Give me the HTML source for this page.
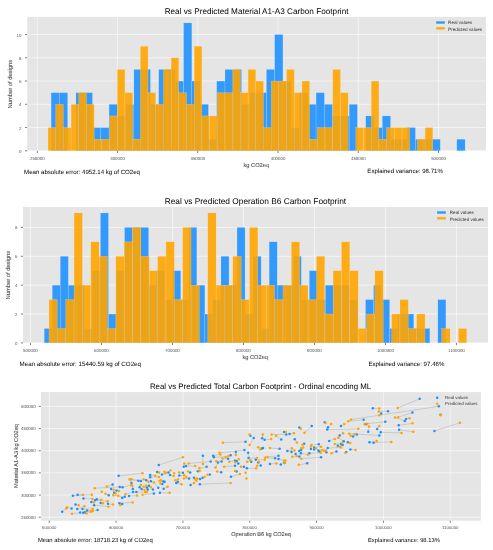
<!DOCTYPE html>
<html><head><meta charset="utf-8"><style>
html,body{margin:0;padding:0;background:#fff;}
svg{display:block;font-family:"Liberation Sans", Arial, sans-serif;text-rendering:geometricPrecision;}
</style></head><body>
<svg width="493" height="550" viewBox="0 0 493 550">
<rect width="493" height="550" fill="#fff"/>
<rect x="27.2" y="16.9" width="458.80" height="133.90" fill="#E5E5E5"/>
<line x1="37.31" y1="16.9" x2="37.31" y2="150.8" stroke="#fff" stroke-width="0.7" stroke-opacity="0.8"/>
<line x1="117.55" y1="16.9" x2="117.55" y2="150.8" stroke="#fff" stroke-width="0.7" stroke-opacity="0.8"/>
<line x1="197.79" y1="16.9" x2="197.79" y2="150.8" stroke="#fff" stroke-width="0.7" stroke-opacity="0.8"/>
<line x1="278.03" y1="16.9" x2="278.03" y2="150.8" stroke="#fff" stroke-width="0.7" stroke-opacity="0.8"/>
<line x1="358.27" y1="16.9" x2="358.27" y2="150.8" stroke="#fff" stroke-width="0.7" stroke-opacity="0.8"/>
<line x1="438.51" y1="16.9" x2="438.51" y2="150.8" stroke="#fff" stroke-width="0.7" stroke-opacity="0.8"/>
<line x1="27.2" y1="150.80" x2="486.0" y2="150.80" stroke="#fff" stroke-width="0.7" stroke-opacity="0.8"/>
<line x1="27.2" y1="127.55" x2="486.0" y2="127.55" stroke="#fff" stroke-width="0.7" stroke-opacity="0.8"/>
<line x1="27.2" y1="104.29" x2="486.0" y2="104.29" stroke="#fff" stroke-width="0.7" stroke-opacity="0.8"/>
<line x1="27.2" y1="81.04" x2="486.0" y2="81.04" stroke="#fff" stroke-width="0.7" stroke-opacity="0.8"/>
<line x1="27.2" y1="57.78" x2="486.0" y2="57.78" stroke="#fff" stroke-width="0.7" stroke-opacity="0.8"/>
<line x1="27.2" y1="34.53" x2="486.0" y2="34.53" stroke="#fff" stroke-width="0.7" stroke-opacity="0.8"/>
<rect x="51.100" y="92.665" width="8.280" height="58.135" fill="#1E90FF" fill-opacity="0.9" stroke="#EEEEEE" stroke-width="0.3" stroke-opacity="0.6"/>
<rect x="59.380" y="92.665" width="8.280" height="58.135" fill="#1E90FF" fill-opacity="0.9" stroke="#EEEEEE" stroke-width="0.3" stroke-opacity="0.6"/>
<rect x="75.940" y="92.665" width="8.280" height="58.135" fill="#1E90FF" fill-opacity="0.9" stroke="#EEEEEE" stroke-width="0.3" stroke-opacity="0.6"/>
<rect x="84.220" y="92.665" width="8.280" height="58.135" fill="#1E90FF" fill-opacity="0.9" stroke="#EEEEEE" stroke-width="0.3" stroke-opacity="0.6"/>
<rect x="92.500" y="127.546" width="8.280" height="23.254" fill="#1E90FF" fill-opacity="0.9" stroke="#EEEEEE" stroke-width="0.3" stroke-opacity="0.6"/>
<rect x="100.780" y="127.546" width="8.280" height="23.254" fill="#1E90FF" fill-opacity="0.9" stroke="#EEEEEE" stroke-width="0.3" stroke-opacity="0.6"/>
<rect x="109.060" y="104.292" width="8.280" height="46.508" fill="#1E90FF" fill-opacity="0.9" stroke="#EEEEEE" stroke-width="0.3" stroke-opacity="0.6"/>
<rect x="117.340" y="115.919" width="8.280" height="34.881" fill="#1E90FF" fill-opacity="0.9" stroke="#EEEEEE" stroke-width="0.3" stroke-opacity="0.6"/>
<rect x="125.620" y="104.292" width="8.280" height="46.508" fill="#1E90FF" fill-opacity="0.9" stroke="#EEEEEE" stroke-width="0.3" stroke-opacity="0.6"/>
<rect x="133.900" y="69.411" width="8.280" height="81.389" fill="#1E90FF" fill-opacity="0.9" stroke="#EEEEEE" stroke-width="0.3" stroke-opacity="0.6"/>
<rect x="142.180" y="69.411" width="8.280" height="81.389" fill="#1E90FF" fill-opacity="0.9" stroke="#EEEEEE" stroke-width="0.3" stroke-opacity="0.6"/>
<rect x="150.460" y="104.292" width="8.280" height="46.508" fill="#1E90FF" fill-opacity="0.9" stroke="#EEEEEE" stroke-width="0.3" stroke-opacity="0.6"/>
<rect x="158.740" y="69.411" width="8.280" height="81.389" fill="#1E90FF" fill-opacity="0.9" stroke="#EEEEEE" stroke-width="0.3" stroke-opacity="0.6"/>
<rect x="167.020" y="69.411" width="8.280" height="81.389" fill="#1E90FF" fill-opacity="0.9" stroke="#EEEEEE" stroke-width="0.3" stroke-opacity="0.6"/>
<rect x="175.300" y="81.038" width="8.280" height="69.762" fill="#1E90FF" fill-opacity="0.9" stroke="#EEEEEE" stroke-width="0.3" stroke-opacity="0.6"/>
<rect x="183.580" y="22.903" width="8.280" height="127.897" fill="#1E90FF" fill-opacity="0.9" stroke="#EEEEEE" stroke-width="0.3" stroke-opacity="0.6"/>
<rect x="191.860" y="81.038" width="8.280" height="69.762" fill="#1E90FF" fill-opacity="0.9" stroke="#EEEEEE" stroke-width="0.3" stroke-opacity="0.6"/>
<rect x="200.140" y="104.292" width="8.280" height="46.508" fill="#1E90FF" fill-opacity="0.9" stroke="#EEEEEE" stroke-width="0.3" stroke-opacity="0.6"/>
<rect x="208.420" y="139.173" width="8.280" height="11.627" fill="#1E90FF" fill-opacity="0.9" stroke="#EEEEEE" stroke-width="0.3" stroke-opacity="0.6"/>
<rect x="216.700" y="81.038" width="8.280" height="69.762" fill="#1E90FF" fill-opacity="0.9" stroke="#EEEEEE" stroke-width="0.3" stroke-opacity="0.6"/>
<rect x="224.980" y="69.411" width="8.280" height="81.389" fill="#1E90FF" fill-opacity="0.9" stroke="#EEEEEE" stroke-width="0.3" stroke-opacity="0.6"/>
<rect x="233.260" y="69.411" width="8.280" height="81.389" fill="#1E90FF" fill-opacity="0.9" stroke="#EEEEEE" stroke-width="0.3" stroke-opacity="0.6"/>
<rect x="241.540" y="104.292" width="8.280" height="46.508" fill="#1E90FF" fill-opacity="0.9" stroke="#EEEEEE" stroke-width="0.3" stroke-opacity="0.6"/>
<rect x="249.820" y="92.665" width="8.280" height="58.135" fill="#1E90FF" fill-opacity="0.9" stroke="#EEEEEE" stroke-width="0.3" stroke-opacity="0.6"/>
<rect x="258.100" y="92.665" width="8.280" height="58.135" fill="#1E90FF" fill-opacity="0.9" stroke="#EEEEEE" stroke-width="0.3" stroke-opacity="0.6"/>
<rect x="266.380" y="69.411" width="8.280" height="81.389" fill="#1E90FF" fill-opacity="0.9" stroke="#EEEEEE" stroke-width="0.3" stroke-opacity="0.6"/>
<rect x="274.660" y="34.530" width="8.280" height="116.270" fill="#1E90FF" fill-opacity="0.9" stroke="#EEEEEE" stroke-width="0.3" stroke-opacity="0.6"/>
<rect x="282.940" y="81.038" width="8.280" height="69.762" fill="#1E90FF" fill-opacity="0.9" stroke="#EEEEEE" stroke-width="0.3" stroke-opacity="0.6"/>
<rect x="291.220" y="127.546" width="8.280" height="23.254" fill="#1E90FF" fill-opacity="0.9" stroke="#EEEEEE" stroke-width="0.3" stroke-opacity="0.6"/>
<rect x="299.500" y="92.665" width="8.280" height="58.135" fill="#1E90FF" fill-opacity="0.9" stroke="#EEEEEE" stroke-width="0.3" stroke-opacity="0.6"/>
<rect x="307.780" y="104.292" width="8.280" height="46.508" fill="#1E90FF" fill-opacity="0.9" stroke="#EEEEEE" stroke-width="0.3" stroke-opacity="0.6"/>
<rect x="316.060" y="92.665" width="8.280" height="58.135" fill="#1E90FF" fill-opacity="0.9" stroke="#EEEEEE" stroke-width="0.3" stroke-opacity="0.6"/>
<rect x="324.340" y="104.292" width="8.280" height="46.508" fill="#1E90FF" fill-opacity="0.9" stroke="#EEEEEE" stroke-width="0.3" stroke-opacity="0.6"/>
<rect x="332.620" y="115.919" width="8.280" height="34.881" fill="#1E90FF" fill-opacity="0.9" stroke="#EEEEEE" stroke-width="0.3" stroke-opacity="0.6"/>
<rect x="340.900" y="115.919" width="8.280" height="34.881" fill="#1E90FF" fill-opacity="0.9" stroke="#EEEEEE" stroke-width="0.3" stroke-opacity="0.6"/>
<rect x="349.180" y="104.292" width="8.280" height="46.508" fill="#1E90FF" fill-opacity="0.9" stroke="#EEEEEE" stroke-width="0.3" stroke-opacity="0.6"/>
<rect x="365.740" y="115.919" width="8.280" height="34.881" fill="#1E90FF" fill-opacity="0.9" stroke="#EEEEEE" stroke-width="0.3" stroke-opacity="0.6"/>
<rect x="374.020" y="127.546" width="8.280" height="23.254" fill="#1E90FF" fill-opacity="0.9" stroke="#EEEEEE" stroke-width="0.3" stroke-opacity="0.6"/>
<rect x="382.300" y="115.919" width="8.280" height="34.881" fill="#1E90FF" fill-opacity="0.9" stroke="#EEEEEE" stroke-width="0.3" stroke-opacity="0.6"/>
<rect x="390.580" y="139.173" width="8.280" height="11.627" fill="#1E90FF" fill-opacity="0.9" stroke="#EEEEEE" stroke-width="0.3" stroke-opacity="0.6"/>
<rect x="398.860" y="139.173" width="8.280" height="11.627" fill="#1E90FF" fill-opacity="0.9" stroke="#EEEEEE" stroke-width="0.3" stroke-opacity="0.6"/>
<rect x="407.140" y="127.546" width="8.280" height="23.254" fill="#1E90FF" fill-opacity="0.9" stroke="#EEEEEE" stroke-width="0.3" stroke-opacity="0.6"/>
<rect x="415.420" y="139.173" width="8.280" height="11.627" fill="#1E90FF" fill-opacity="0.9" stroke="#EEEEEE" stroke-width="0.3" stroke-opacity="0.6"/>
<rect x="423.700" y="139.173" width="8.280" height="11.627" fill="#1E90FF" fill-opacity="0.9" stroke="#EEEEEE" stroke-width="0.3" stroke-opacity="0.6"/>
<rect x="431.980" y="139.173" width="8.280" height="11.627" fill="#1E90FF" fill-opacity="0.9" stroke="#EEEEEE" stroke-width="0.3" stroke-opacity="0.6"/>
<rect x="456.820" y="139.173" width="8.280" height="11.627" fill="#1E90FF" fill-opacity="0.9" stroke="#EEEEEE" stroke-width="0.3" stroke-opacity="0.6"/>
<rect x="48.000" y="127.546" width="7.696" height="23.254" fill="#FFA500" fill-opacity="0.9" stroke="#EEEEEE" stroke-width="0.3" stroke-opacity="0.6"/>
<rect x="55.696" y="104.292" width="7.696" height="46.508" fill="#FFA500" fill-opacity="0.9" stroke="#EEEEEE" stroke-width="0.3" stroke-opacity="0.6"/>
<rect x="63.392" y="127.546" width="7.696" height="23.254" fill="#FFA500" fill-opacity="0.9" stroke="#EEEEEE" stroke-width="0.3" stroke-opacity="0.6"/>
<rect x="71.088" y="104.292" width="7.696" height="46.508" fill="#FFA500" fill-opacity="0.9" stroke="#EEEEEE" stroke-width="0.3" stroke-opacity="0.6"/>
<rect x="78.784" y="92.665" width="7.696" height="58.135" fill="#FFA500" fill-opacity="0.9" stroke="#EEEEEE" stroke-width="0.3" stroke-opacity="0.6"/>
<rect x="86.480" y="104.292" width="7.696" height="46.508" fill="#FFA500" fill-opacity="0.9" stroke="#EEEEEE" stroke-width="0.3" stroke-opacity="0.6"/>
<rect x="94.176" y="139.173" width="7.696" height="11.627" fill="#FFA500" fill-opacity="0.9" stroke="#EEEEEE" stroke-width="0.3" stroke-opacity="0.6"/>
<rect x="101.872" y="139.173" width="7.696" height="11.627" fill="#FFA500" fill-opacity="0.9" stroke="#EEEEEE" stroke-width="0.3" stroke-opacity="0.6"/>
<rect x="109.568" y="115.919" width="7.696" height="34.881" fill="#FFA500" fill-opacity="0.9" stroke="#EEEEEE" stroke-width="0.3" stroke-opacity="0.6"/>
<rect x="117.264" y="69.411" width="7.696" height="81.389" fill="#FFA500" fill-opacity="0.9" stroke="#EEEEEE" stroke-width="0.3" stroke-opacity="0.6"/>
<rect x="124.960" y="92.665" width="7.696" height="58.135" fill="#FFA500" fill-opacity="0.9" stroke="#EEEEEE" stroke-width="0.3" stroke-opacity="0.6"/>
<rect x="132.656" y="139.173" width="7.696" height="11.627" fill="#FFA500" fill-opacity="0.9" stroke="#EEEEEE" stroke-width="0.3" stroke-opacity="0.6"/>
<rect x="140.352" y="46.157" width="7.696" height="104.643" fill="#FFA500" fill-opacity="0.9" stroke="#EEEEEE" stroke-width="0.3" stroke-opacity="0.6"/>
<rect x="148.048" y="92.665" width="7.696" height="58.135" fill="#FFA500" fill-opacity="0.9" stroke="#EEEEEE" stroke-width="0.3" stroke-opacity="0.6"/>
<rect x="155.744" y="104.292" width="7.696" height="46.508" fill="#FFA500" fill-opacity="0.9" stroke="#EEEEEE" stroke-width="0.3" stroke-opacity="0.6"/>
<rect x="163.440" y="69.411" width="7.696" height="81.389" fill="#FFA500" fill-opacity="0.9" stroke="#EEEEEE" stroke-width="0.3" stroke-opacity="0.6"/>
<rect x="171.136" y="57.784" width="7.696" height="93.016" fill="#FFA500" fill-opacity="0.9" stroke="#EEEEEE" stroke-width="0.3" stroke-opacity="0.6"/>
<rect x="178.832" y="92.665" width="7.696" height="58.135" fill="#FFA500" fill-opacity="0.9" stroke="#EEEEEE" stroke-width="0.3" stroke-opacity="0.6"/>
<rect x="186.528" y="104.292" width="7.696" height="46.508" fill="#FFA500" fill-opacity="0.9" stroke="#EEEEEE" stroke-width="0.3" stroke-opacity="0.6"/>
<rect x="194.224" y="46.157" width="7.696" height="104.643" fill="#FFA500" fill-opacity="0.9" stroke="#EEEEEE" stroke-width="0.3" stroke-opacity="0.6"/>
<rect x="201.920" y="115.919" width="7.696" height="34.881" fill="#FFA500" fill-opacity="0.9" stroke="#EEEEEE" stroke-width="0.3" stroke-opacity="0.6"/>
<rect x="209.616" y="115.919" width="7.696" height="34.881" fill="#FFA500" fill-opacity="0.9" stroke="#EEEEEE" stroke-width="0.3" stroke-opacity="0.6"/>
<rect x="217.312" y="92.665" width="7.696" height="58.135" fill="#FFA500" fill-opacity="0.9" stroke="#EEEEEE" stroke-width="0.3" stroke-opacity="0.6"/>
<rect x="225.008" y="92.665" width="7.696" height="58.135" fill="#FFA500" fill-opacity="0.9" stroke="#EEEEEE" stroke-width="0.3" stroke-opacity="0.6"/>
<rect x="232.704" y="69.411" width="7.696" height="81.389" fill="#FFA500" fill-opacity="0.9" stroke="#EEEEEE" stroke-width="0.3" stroke-opacity="0.6"/>
<rect x="240.400" y="92.665" width="7.696" height="58.135" fill="#FFA500" fill-opacity="0.9" stroke="#EEEEEE" stroke-width="0.3" stroke-opacity="0.6"/>
<rect x="248.096" y="69.411" width="7.696" height="81.389" fill="#FFA500" fill-opacity="0.9" stroke="#EEEEEE" stroke-width="0.3" stroke-opacity="0.6"/>
<rect x="255.792" y="81.038" width="7.696" height="69.762" fill="#FFA500" fill-opacity="0.9" stroke="#EEEEEE" stroke-width="0.3" stroke-opacity="0.6"/>
<rect x="263.488" y="127.546" width="7.696" height="23.254" fill="#FFA500" fill-opacity="0.9" stroke="#EEEEEE" stroke-width="0.3" stroke-opacity="0.6"/>
<rect x="271.184" y="81.038" width="7.696" height="69.762" fill="#FFA500" fill-opacity="0.9" stroke="#EEEEEE" stroke-width="0.3" stroke-opacity="0.6"/>
<rect x="278.880" y="81.038" width="7.696" height="69.762" fill="#FFA500" fill-opacity="0.9" stroke="#EEEEEE" stroke-width="0.3" stroke-opacity="0.6"/>
<rect x="286.576" y="69.411" width="7.696" height="81.389" fill="#FFA500" fill-opacity="0.9" stroke="#EEEEEE" stroke-width="0.3" stroke-opacity="0.6"/>
<rect x="294.272" y="92.665" width="7.696" height="58.135" fill="#FFA500" fill-opacity="0.9" stroke="#EEEEEE" stroke-width="0.3" stroke-opacity="0.6"/>
<rect x="301.968" y="81.038" width="7.696" height="69.762" fill="#FFA500" fill-opacity="0.9" stroke="#EEEEEE" stroke-width="0.3" stroke-opacity="0.6"/>
<rect x="309.664" y="139.173" width="7.696" height="11.627" fill="#FFA500" fill-opacity="0.9" stroke="#EEEEEE" stroke-width="0.3" stroke-opacity="0.6"/>
<rect x="317.360" y="127.546" width="7.696" height="23.254" fill="#FFA500" fill-opacity="0.9" stroke="#EEEEEE" stroke-width="0.3" stroke-opacity="0.6"/>
<rect x="325.056" y="127.546" width="7.696" height="23.254" fill="#FFA500" fill-opacity="0.9" stroke="#EEEEEE" stroke-width="0.3" stroke-opacity="0.6"/>
<rect x="332.752" y="69.411" width="7.696" height="81.389" fill="#FFA500" fill-opacity="0.9" stroke="#EEEEEE" stroke-width="0.3" stroke-opacity="0.6"/>
<rect x="340.448" y="92.665" width="7.696" height="58.135" fill="#FFA500" fill-opacity="0.9" stroke="#EEEEEE" stroke-width="0.3" stroke-opacity="0.6"/>
<rect x="355.840" y="127.546" width="7.696" height="23.254" fill="#FFA500" fill-opacity="0.9" stroke="#EEEEEE" stroke-width="0.3" stroke-opacity="0.6"/>
<rect x="363.536" y="127.546" width="7.696" height="23.254" fill="#FFA500" fill-opacity="0.9" stroke="#EEEEEE" stroke-width="0.3" stroke-opacity="0.6"/>
<rect x="371.232" y="81.038" width="7.696" height="69.762" fill="#FFA500" fill-opacity="0.9" stroke="#EEEEEE" stroke-width="0.3" stroke-opacity="0.6"/>
<rect x="378.928" y="139.173" width="7.696" height="11.627" fill="#FFA500" fill-opacity="0.9" stroke="#EEEEEE" stroke-width="0.3" stroke-opacity="0.6"/>
<rect x="386.624" y="127.546" width="7.696" height="23.254" fill="#FFA500" fill-opacity="0.9" stroke="#EEEEEE" stroke-width="0.3" stroke-opacity="0.6"/>
<rect x="394.320" y="127.546" width="7.696" height="23.254" fill="#FFA500" fill-opacity="0.9" stroke="#EEEEEE" stroke-width="0.3" stroke-opacity="0.6"/>
<rect x="402.016" y="127.546" width="7.696" height="23.254" fill="#FFA500" fill-opacity="0.9" stroke="#EEEEEE" stroke-width="0.3" stroke-opacity="0.6"/>
<rect x="417.408" y="139.173" width="7.696" height="11.627" fill="#FFA500" fill-opacity="0.9" stroke="#EEEEEE" stroke-width="0.3" stroke-opacity="0.6"/>
<rect x="425.104" y="127.546" width="7.696" height="23.254" fill="#FFA500" fill-opacity="0.9" stroke="#EEEEEE" stroke-width="0.3" stroke-opacity="0.6"/>
<line x1="37.31" y1="150.8" x2="37.31" y2="153.0" stroke="#555555" stroke-width="0.75"/>
<text x="37.31" y="160.20" font-size="4.4" text-anchor="middle" fill="#555555" >250000</text>
<line x1="117.55" y1="150.8" x2="117.55" y2="153.0" stroke="#555555" stroke-width="0.75"/>
<text x="117.55" y="160.20" font-size="4.4" text-anchor="middle" fill="#555555" >300000</text>
<line x1="197.79" y1="150.8" x2="197.79" y2="153.0" stroke="#555555" stroke-width="0.75"/>
<text x="197.79" y="160.20" font-size="4.4" text-anchor="middle" fill="#555555" >350000</text>
<line x1="278.03" y1="150.8" x2="278.03" y2="153.0" stroke="#555555" stroke-width="0.75"/>
<text x="278.03" y="160.20" font-size="4.4" text-anchor="middle" fill="#555555" >400000</text>
<line x1="358.27" y1="150.8" x2="358.27" y2="153.0" stroke="#555555" stroke-width="0.75"/>
<text x="358.27" y="160.20" font-size="4.4" text-anchor="middle" fill="#555555" >450000</text>
<line x1="438.51" y1="150.8" x2="438.51" y2="153.0" stroke="#555555" stroke-width="0.75"/>
<text x="438.51" y="160.20" font-size="4.4" text-anchor="middle" fill="#555555" >500000</text>
<line x1="25.0" y1="150.80" x2="27.2" y2="150.80" stroke="#555555" stroke-width="0.75"/>
<text x="21.40" y="152.90" font-size="4.4" text-anchor="end" fill="#555555" >0</text>
<line x1="25.0" y1="127.55" x2="27.2" y2="127.55" stroke="#555555" stroke-width="0.75"/>
<text x="21.40" y="129.65" font-size="4.4" text-anchor="end" fill="#555555" >2</text>
<line x1="25.0" y1="104.29" x2="27.2" y2="104.29" stroke="#555555" stroke-width="0.75"/>
<text x="21.40" y="106.39" font-size="4.4" text-anchor="end" fill="#555555" >4</text>
<line x1="25.0" y1="81.04" x2="27.2" y2="81.04" stroke="#555555" stroke-width="0.75"/>
<text x="21.40" y="83.14" font-size="4.4" text-anchor="end" fill="#555555" >6</text>
<line x1="25.0" y1="57.78" x2="27.2" y2="57.78" stroke="#555555" stroke-width="0.75"/>
<text x="21.40" y="59.88" font-size="4.4" text-anchor="end" fill="#555555" >8</text>
<line x1="25.0" y1="34.53" x2="27.2" y2="34.53" stroke="#555555" stroke-width="0.75"/>
<text x="21.40" y="36.63" font-size="4.4" text-anchor="end" fill="#555555" >10</text>
<text x="256.60" y="13.80" font-size="8.2" text-anchor="middle" fill="#000" >Real vs Predicted Material A1-A3 Carbon Footprint</text>
<text x="256.30" y="166.60" font-size="5.7" text-anchor="middle" fill="#555555" stroke="#555555" stroke-width="0.1" >kg CO2eq</text>
<text x="11.80" y="84.20" font-size="5.8" text-anchor="middle" fill="#555555" stroke="#555555" stroke-width="0.1" transform="rotate(-90 11.8 84.2)">Number of designs</text>
<text x="24.10" y="173.60" font-size="6.1" text-anchor="start" fill="#000" >Mean absolute error: 4952.14 kg of CO2eq</text>
<text x="442.90" y="173.40" font-size="6.1" text-anchor="end" fill="#000" >Explained variance: 98.71%</text>
<rect x="23.0" y="207.0" width="465.00" height="135.90" fill="#E5E5E5"/>
<line x1="30.45" y1="207.0" x2="30.45" y2="342.9" stroke="#fff" stroke-width="0.7" stroke-opacity="0.8"/>
<line x1="101.45" y1="207.0" x2="101.45" y2="342.9" stroke="#fff" stroke-width="0.7" stroke-opacity="0.8"/>
<line x1="172.45" y1="207.0" x2="172.45" y2="342.9" stroke="#fff" stroke-width="0.7" stroke-opacity="0.8"/>
<line x1="243.45" y1="207.0" x2="243.45" y2="342.9" stroke="#fff" stroke-width="0.7" stroke-opacity="0.8"/>
<line x1="314.45" y1="207.0" x2="314.45" y2="342.9" stroke="#fff" stroke-width="0.7" stroke-opacity="0.8"/>
<line x1="385.45" y1="207.0" x2="385.45" y2="342.9" stroke="#fff" stroke-width="0.7" stroke-opacity="0.8"/>
<line x1="456.45" y1="207.0" x2="456.45" y2="342.9" stroke="#fff" stroke-width="0.7" stroke-opacity="0.8"/>
<line x1="23.0" y1="342.90" x2="488.0" y2="342.90" stroke="#fff" stroke-width="0.7" stroke-opacity="0.8"/>
<line x1="23.0" y1="314.02" x2="488.0" y2="314.02" stroke="#fff" stroke-width="0.7" stroke-opacity="0.8"/>
<line x1="23.0" y1="285.14" x2="488.0" y2="285.14" stroke="#fff" stroke-width="0.7" stroke-opacity="0.8"/>
<line x1="23.0" y1="256.26" x2="488.0" y2="256.26" stroke="#fff" stroke-width="0.7" stroke-opacity="0.8"/>
<line x1="23.0" y1="227.38" x2="488.0" y2="227.38" stroke="#fff" stroke-width="0.7" stroke-opacity="0.8"/>
<rect x="44.200" y="328.460" width="8.034" height="14.440" fill="#1E90FF" fill-opacity="0.9" stroke="#EEEEEE" stroke-width="0.3" stroke-opacity="0.6"/>
<rect x="52.234" y="285.140" width="8.034" height="57.760" fill="#1E90FF" fill-opacity="0.9" stroke="#EEEEEE" stroke-width="0.3" stroke-opacity="0.6"/>
<rect x="60.268" y="256.260" width="8.034" height="86.640" fill="#1E90FF" fill-opacity="0.9" stroke="#EEEEEE" stroke-width="0.3" stroke-opacity="0.6"/>
<rect x="68.302" y="285.140" width="8.034" height="57.760" fill="#1E90FF" fill-opacity="0.9" stroke="#EEEEEE" stroke-width="0.3" stroke-opacity="0.6"/>
<rect x="76.336" y="285.140" width="8.034" height="57.760" fill="#1E90FF" fill-opacity="0.9" stroke="#EEEEEE" stroke-width="0.3" stroke-opacity="0.6"/>
<rect x="84.370" y="328.460" width="8.034" height="14.440" fill="#1E90FF" fill-opacity="0.9" stroke="#EEEEEE" stroke-width="0.3" stroke-opacity="0.6"/>
<rect x="92.404" y="270.700" width="8.034" height="72.200" fill="#1E90FF" fill-opacity="0.9" stroke="#EEEEEE" stroke-width="0.3" stroke-opacity="0.6"/>
<rect x="100.438" y="212.940" width="8.034" height="129.960" fill="#1E90FF" fill-opacity="0.9" stroke="#EEEEEE" stroke-width="0.3" stroke-opacity="0.6"/>
<rect x="108.472" y="314.020" width="8.034" height="28.880" fill="#1E90FF" fill-opacity="0.9" stroke="#EEEEEE" stroke-width="0.3" stroke-opacity="0.6"/>
<rect x="116.506" y="270.700" width="8.034" height="72.200" fill="#1E90FF" fill-opacity="0.9" stroke="#EEEEEE" stroke-width="0.3" stroke-opacity="0.6"/>
<rect x="124.540" y="227.380" width="8.034" height="115.520" fill="#1E90FF" fill-opacity="0.9" stroke="#EEEEEE" stroke-width="0.3" stroke-opacity="0.6"/>
<rect x="132.574" y="227.380" width="8.034" height="115.520" fill="#1E90FF" fill-opacity="0.9" stroke="#EEEEEE" stroke-width="0.3" stroke-opacity="0.6"/>
<rect x="140.608" y="227.380" width="8.034" height="115.520" fill="#1E90FF" fill-opacity="0.9" stroke="#EEEEEE" stroke-width="0.3" stroke-opacity="0.6"/>
<rect x="148.642" y="285.140" width="8.034" height="57.760" fill="#1E90FF" fill-opacity="0.9" stroke="#EEEEEE" stroke-width="0.3" stroke-opacity="0.6"/>
<rect x="156.676" y="270.700" width="8.034" height="72.200" fill="#1E90FF" fill-opacity="0.9" stroke="#EEEEEE" stroke-width="0.3" stroke-opacity="0.6"/>
<rect x="164.710" y="299.580" width="8.034" height="43.320" fill="#1E90FF" fill-opacity="0.9" stroke="#EEEEEE" stroke-width="0.3" stroke-opacity="0.6"/>
<rect x="172.744" y="270.700" width="8.034" height="72.200" fill="#1E90FF" fill-opacity="0.9" stroke="#EEEEEE" stroke-width="0.3" stroke-opacity="0.6"/>
<rect x="180.778" y="299.580" width="8.034" height="43.320" fill="#1E90FF" fill-opacity="0.9" stroke="#EEEEEE" stroke-width="0.3" stroke-opacity="0.6"/>
<rect x="188.812" y="227.380" width="8.034" height="115.520" fill="#1E90FF" fill-opacity="0.9" stroke="#EEEEEE" stroke-width="0.3" stroke-opacity="0.6"/>
<rect x="196.846" y="285.140" width="8.034" height="57.760" fill="#1E90FF" fill-opacity="0.9" stroke="#EEEEEE" stroke-width="0.3" stroke-opacity="0.6"/>
<rect x="204.880" y="314.020" width="8.034" height="28.880" fill="#1E90FF" fill-opacity="0.9" stroke="#EEEEEE" stroke-width="0.3" stroke-opacity="0.6"/>
<rect x="212.914" y="299.580" width="8.034" height="43.320" fill="#1E90FF" fill-opacity="0.9" stroke="#EEEEEE" stroke-width="0.3" stroke-opacity="0.6"/>
<rect x="220.948" y="256.260" width="8.034" height="86.640" fill="#1E90FF" fill-opacity="0.9" stroke="#EEEEEE" stroke-width="0.3" stroke-opacity="0.6"/>
<rect x="228.982" y="285.140" width="8.034" height="57.760" fill="#1E90FF" fill-opacity="0.9" stroke="#EEEEEE" stroke-width="0.3" stroke-opacity="0.6"/>
<rect x="237.016" y="227.380" width="8.034" height="115.520" fill="#1E90FF" fill-opacity="0.9" stroke="#EEEEEE" stroke-width="0.3" stroke-opacity="0.6"/>
<rect x="245.050" y="314.020" width="8.034" height="28.880" fill="#1E90FF" fill-opacity="0.9" stroke="#EEEEEE" stroke-width="0.3" stroke-opacity="0.6"/>
<rect x="253.084" y="256.260" width="8.034" height="86.640" fill="#1E90FF" fill-opacity="0.9" stroke="#EEEEEE" stroke-width="0.3" stroke-opacity="0.6"/>
<rect x="261.118" y="328.460" width="8.034" height="14.440" fill="#1E90FF" fill-opacity="0.9" stroke="#EEEEEE" stroke-width="0.3" stroke-opacity="0.6"/>
<rect x="269.152" y="241.820" width="8.034" height="101.080" fill="#1E90FF" fill-opacity="0.9" stroke="#EEEEEE" stroke-width="0.3" stroke-opacity="0.6"/>
<rect x="277.186" y="285.140" width="8.034" height="57.760" fill="#1E90FF" fill-opacity="0.9" stroke="#EEEEEE" stroke-width="0.3" stroke-opacity="0.6"/>
<rect x="285.220" y="285.140" width="8.034" height="57.760" fill="#1E90FF" fill-opacity="0.9" stroke="#EEEEEE" stroke-width="0.3" stroke-opacity="0.6"/>
<rect x="293.254" y="256.260" width="8.034" height="86.640" fill="#1E90FF" fill-opacity="0.9" stroke="#EEEEEE" stroke-width="0.3" stroke-opacity="0.6"/>
<rect x="301.288" y="299.580" width="8.034" height="43.320" fill="#1E90FF" fill-opacity="0.9" stroke="#EEEEEE" stroke-width="0.3" stroke-opacity="0.6"/>
<rect x="309.322" y="270.700" width="8.034" height="72.200" fill="#1E90FF" fill-opacity="0.9" stroke="#EEEEEE" stroke-width="0.3" stroke-opacity="0.6"/>
<rect x="317.356" y="299.580" width="8.034" height="43.320" fill="#1E90FF" fill-opacity="0.9" stroke="#EEEEEE" stroke-width="0.3" stroke-opacity="0.6"/>
<rect x="325.390" y="285.140" width="8.034" height="57.760" fill="#1E90FF" fill-opacity="0.9" stroke="#EEEEEE" stroke-width="0.3" stroke-opacity="0.6"/>
<rect x="333.424" y="285.140" width="8.034" height="57.760" fill="#1E90FF" fill-opacity="0.9" stroke="#EEEEEE" stroke-width="0.3" stroke-opacity="0.6"/>
<rect x="341.458" y="285.140" width="8.034" height="57.760" fill="#1E90FF" fill-opacity="0.9" stroke="#EEEEEE" stroke-width="0.3" stroke-opacity="0.6"/>
<rect x="349.492" y="299.580" width="8.034" height="43.320" fill="#1E90FF" fill-opacity="0.9" stroke="#EEEEEE" stroke-width="0.3" stroke-opacity="0.6"/>
<rect x="365.560" y="299.580" width="8.034" height="43.320" fill="#1E90FF" fill-opacity="0.9" stroke="#EEEEEE" stroke-width="0.3" stroke-opacity="0.6"/>
<rect x="373.594" y="285.140" width="8.034" height="57.760" fill="#1E90FF" fill-opacity="0.9" stroke="#EEEEEE" stroke-width="0.3" stroke-opacity="0.6"/>
<rect x="381.628" y="299.580" width="8.034" height="43.320" fill="#1E90FF" fill-opacity="0.9" stroke="#EEEEEE" stroke-width="0.3" stroke-opacity="0.6"/>
<rect x="389.662" y="328.460" width="8.034" height="14.440" fill="#1E90FF" fill-opacity="0.9" stroke="#EEEEEE" stroke-width="0.3" stroke-opacity="0.6"/>
<rect x="397.696" y="314.020" width="8.034" height="28.880" fill="#1E90FF" fill-opacity="0.9" stroke="#EEEEEE" stroke-width="0.3" stroke-opacity="0.6"/>
<rect x="405.730" y="314.020" width="8.034" height="28.880" fill="#1E90FF" fill-opacity="0.9" stroke="#EEEEEE" stroke-width="0.3" stroke-opacity="0.6"/>
<rect x="413.764" y="328.460" width="8.034" height="14.440" fill="#1E90FF" fill-opacity="0.9" stroke="#EEEEEE" stroke-width="0.3" stroke-opacity="0.6"/>
<rect x="421.798" y="328.460" width="8.034" height="14.440" fill="#1E90FF" fill-opacity="0.9" stroke="#EEEEEE" stroke-width="0.3" stroke-opacity="0.6"/>
<rect x="437.866" y="299.580" width="8.034" height="43.320" fill="#1E90FF" fill-opacity="0.9" stroke="#EEEEEE" stroke-width="0.3" stroke-opacity="0.6"/>
<rect x="49.000" y="299.580" width="8.356" height="43.320" fill="#FFA500" fill-opacity="0.9" stroke="#EEEEEE" stroke-width="0.3" stroke-opacity="0.6"/>
<rect x="57.356" y="328.460" width="8.356" height="14.440" fill="#FFA500" fill-opacity="0.9" stroke="#EEEEEE" stroke-width="0.3" stroke-opacity="0.6"/>
<rect x="65.712" y="299.580" width="8.356" height="43.320" fill="#FFA500" fill-opacity="0.9" stroke="#EEEEEE" stroke-width="0.3" stroke-opacity="0.6"/>
<rect x="74.068" y="212.940" width="8.356" height="129.960" fill="#FFA500" fill-opacity="0.9" stroke="#EEEEEE" stroke-width="0.3" stroke-opacity="0.6"/>
<rect x="82.424" y="285.140" width="8.356" height="57.760" fill="#FFA500" fill-opacity="0.9" stroke="#EEEEEE" stroke-width="0.3" stroke-opacity="0.6"/>
<rect x="90.780" y="241.820" width="8.356" height="101.080" fill="#FFA500" fill-opacity="0.9" stroke="#EEEEEE" stroke-width="0.3" stroke-opacity="0.6"/>
<rect x="99.136" y="256.260" width="8.356" height="86.640" fill="#FFA500" fill-opacity="0.9" stroke="#EEEEEE" stroke-width="0.3" stroke-opacity="0.6"/>
<rect x="107.492" y="328.460" width="8.356" height="14.440" fill="#FFA500" fill-opacity="0.9" stroke="#EEEEEE" stroke-width="0.3" stroke-opacity="0.6"/>
<rect x="115.848" y="256.260" width="8.356" height="86.640" fill="#FFA500" fill-opacity="0.9" stroke="#EEEEEE" stroke-width="0.3" stroke-opacity="0.6"/>
<rect x="124.204" y="241.820" width="8.356" height="101.080" fill="#FFA500" fill-opacity="0.9" stroke="#EEEEEE" stroke-width="0.3" stroke-opacity="0.6"/>
<rect x="132.560" y="227.380" width="8.356" height="115.520" fill="#FFA500" fill-opacity="0.9" stroke="#EEEEEE" stroke-width="0.3" stroke-opacity="0.6"/>
<rect x="140.916" y="256.260" width="8.356" height="86.640" fill="#FFA500" fill-opacity="0.9" stroke="#EEEEEE" stroke-width="0.3" stroke-opacity="0.6"/>
<rect x="149.272" y="270.700" width="8.356" height="72.200" fill="#FFA500" fill-opacity="0.9" stroke="#EEEEEE" stroke-width="0.3" stroke-opacity="0.6"/>
<rect x="157.628" y="256.260" width="8.356" height="86.640" fill="#FFA500" fill-opacity="0.9" stroke="#EEEEEE" stroke-width="0.3" stroke-opacity="0.6"/>
<rect x="165.984" y="241.820" width="8.356" height="101.080" fill="#FFA500" fill-opacity="0.9" stroke="#EEEEEE" stroke-width="0.3" stroke-opacity="0.6"/>
<rect x="174.340" y="299.580" width="8.356" height="43.320" fill="#FFA500" fill-opacity="0.9" stroke="#EEEEEE" stroke-width="0.3" stroke-opacity="0.6"/>
<rect x="182.696" y="227.380" width="8.356" height="115.520" fill="#FFA500" fill-opacity="0.9" stroke="#EEEEEE" stroke-width="0.3" stroke-opacity="0.6"/>
<rect x="191.052" y="285.140" width="8.356" height="57.760" fill="#FFA500" fill-opacity="0.9" stroke="#EEEEEE" stroke-width="0.3" stroke-opacity="0.6"/>
<rect x="207.764" y="212.940" width="8.356" height="129.960" fill="#FFA500" fill-opacity="0.9" stroke="#EEEEEE" stroke-width="0.3" stroke-opacity="0.6"/>
<rect x="216.120" y="285.140" width="8.356" height="57.760" fill="#FFA500" fill-opacity="0.9" stroke="#EEEEEE" stroke-width="0.3" stroke-opacity="0.6"/>
<rect x="224.476" y="285.140" width="8.356" height="57.760" fill="#FFA500" fill-opacity="0.9" stroke="#EEEEEE" stroke-width="0.3" stroke-opacity="0.6"/>
<rect x="232.832" y="256.260" width="8.356" height="86.640" fill="#FFA500" fill-opacity="0.9" stroke="#EEEEEE" stroke-width="0.3" stroke-opacity="0.6"/>
<rect x="241.188" y="299.580" width="8.356" height="43.320" fill="#FFA500" fill-opacity="0.9" stroke="#EEEEEE" stroke-width="0.3" stroke-opacity="0.6"/>
<rect x="249.544" y="227.380" width="8.356" height="115.520" fill="#FFA500" fill-opacity="0.9" stroke="#EEEEEE" stroke-width="0.3" stroke-opacity="0.6"/>
<rect x="257.900" y="285.140" width="8.356" height="57.760" fill="#FFA500" fill-opacity="0.9" stroke="#EEEEEE" stroke-width="0.3" stroke-opacity="0.6"/>
<rect x="266.256" y="285.140" width="8.356" height="57.760" fill="#FFA500" fill-opacity="0.9" stroke="#EEEEEE" stroke-width="0.3" stroke-opacity="0.6"/>
<rect x="274.612" y="299.580" width="8.356" height="43.320" fill="#FFA500" fill-opacity="0.9" stroke="#EEEEEE" stroke-width="0.3" stroke-opacity="0.6"/>
<rect x="282.968" y="285.140" width="8.356" height="57.760" fill="#FFA500" fill-opacity="0.9" stroke="#EEEEEE" stroke-width="0.3" stroke-opacity="0.6"/>
<rect x="291.324" y="241.820" width="8.356" height="101.080" fill="#FFA500" fill-opacity="0.9" stroke="#EEEEEE" stroke-width="0.3" stroke-opacity="0.6"/>
<rect x="299.680" y="285.140" width="8.356" height="57.760" fill="#FFA500" fill-opacity="0.9" stroke="#EEEEEE" stroke-width="0.3" stroke-opacity="0.6"/>
<rect x="308.036" y="299.580" width="8.356" height="43.320" fill="#FFA500" fill-opacity="0.9" stroke="#EEEEEE" stroke-width="0.3" stroke-opacity="0.6"/>
<rect x="316.392" y="256.260" width="8.356" height="86.640" fill="#FFA500" fill-opacity="0.9" stroke="#EEEEEE" stroke-width="0.3" stroke-opacity="0.6"/>
<rect x="324.748" y="314.020" width="8.356" height="28.880" fill="#FFA500" fill-opacity="0.9" stroke="#EEEEEE" stroke-width="0.3" stroke-opacity="0.6"/>
<rect x="333.104" y="270.700" width="8.356" height="72.200" fill="#FFA500" fill-opacity="0.9" stroke="#EEEEEE" stroke-width="0.3" stroke-opacity="0.6"/>
<rect x="341.460" y="241.820" width="8.356" height="101.080" fill="#FFA500" fill-opacity="0.9" stroke="#EEEEEE" stroke-width="0.3" stroke-opacity="0.6"/>
<rect x="349.816" y="270.700" width="8.356" height="72.200" fill="#FFA500" fill-opacity="0.9" stroke="#EEEEEE" stroke-width="0.3" stroke-opacity="0.6"/>
<rect x="358.172" y="328.460" width="8.356" height="14.440" fill="#FFA500" fill-opacity="0.9" stroke="#EEEEEE" stroke-width="0.3" stroke-opacity="0.6"/>
<rect x="366.528" y="314.020" width="8.356" height="28.880" fill="#FFA500" fill-opacity="0.9" stroke="#EEEEEE" stroke-width="0.3" stroke-opacity="0.6"/>
<rect x="374.884" y="270.700" width="8.356" height="72.200" fill="#FFA500" fill-opacity="0.9" stroke="#EEEEEE" stroke-width="0.3" stroke-opacity="0.6"/>
<rect x="391.596" y="314.020" width="8.356" height="28.880" fill="#FFA500" fill-opacity="0.9" stroke="#EEEEEE" stroke-width="0.3" stroke-opacity="0.6"/>
<rect x="399.952" y="299.580" width="8.356" height="43.320" fill="#FFA500" fill-opacity="0.9" stroke="#EEEEEE" stroke-width="0.3" stroke-opacity="0.6"/>
<rect x="408.308" y="328.460" width="8.356" height="14.440" fill="#FFA500" fill-opacity="0.9" stroke="#EEEEEE" stroke-width="0.3" stroke-opacity="0.6"/>
<rect x="416.664" y="314.020" width="8.356" height="28.880" fill="#FFA500" fill-opacity="0.9" stroke="#EEEEEE" stroke-width="0.3" stroke-opacity="0.6"/>
<rect x="441.732" y="328.460" width="8.356" height="14.440" fill="#FFA500" fill-opacity="0.9" stroke="#EEEEEE" stroke-width="0.3" stroke-opacity="0.6"/>
<rect x="458.444" y="328.460" width="8.356" height="14.440" fill="#FFA500" fill-opacity="0.9" stroke="#EEEEEE" stroke-width="0.3" stroke-opacity="0.6"/>
<line x1="30.45" y1="342.9" x2="30.45" y2="345.09999999999997" stroke="#555555" stroke-width="0.75"/>
<text x="30.45" y="351.50" font-size="4.4" text-anchor="middle" fill="#555555" >500000</text>
<line x1="101.45" y1="342.9" x2="101.45" y2="345.09999999999997" stroke="#555555" stroke-width="0.75"/>
<text x="101.45" y="351.50" font-size="4.4" text-anchor="middle" fill="#555555" >600000</text>
<line x1="172.45" y1="342.9" x2="172.45" y2="345.09999999999997" stroke="#555555" stroke-width="0.75"/>
<text x="172.45" y="351.50" font-size="4.4" text-anchor="middle" fill="#555555" >700000</text>
<line x1="243.45" y1="342.9" x2="243.45" y2="345.09999999999997" stroke="#555555" stroke-width="0.75"/>
<text x="243.45" y="351.50" font-size="4.4" text-anchor="middle" fill="#555555" >800000</text>
<line x1="314.45" y1="342.9" x2="314.45" y2="345.09999999999997" stroke="#555555" stroke-width="0.75"/>
<text x="314.45" y="351.50" font-size="4.4" text-anchor="middle" fill="#555555" >900000</text>
<line x1="385.45" y1="342.9" x2="385.45" y2="345.09999999999997" stroke="#555555" stroke-width="0.75"/>
<text x="385.45" y="351.50" font-size="4.4" text-anchor="middle" fill="#555555" >1000000</text>
<line x1="456.45" y1="342.9" x2="456.45" y2="345.09999999999997" stroke="#555555" stroke-width="0.75"/>
<text x="456.45" y="351.50" font-size="4.4" text-anchor="middle" fill="#555555" >1100000</text>
<line x1="20.8" y1="342.90" x2="23.0" y2="342.90" stroke="#555555" stroke-width="0.75"/>
<text x="17.40" y="344.50" font-size="4.4" text-anchor="end" fill="#555555" >0</text>
<line x1="20.8" y1="314.02" x2="23.0" y2="314.02" stroke="#555555" stroke-width="0.75"/>
<text x="17.40" y="315.62" font-size="4.4" text-anchor="end" fill="#555555" >2</text>
<line x1="20.8" y1="285.14" x2="23.0" y2="285.14" stroke="#555555" stroke-width="0.75"/>
<text x="17.40" y="286.74" font-size="4.4" text-anchor="end" fill="#555555" >4</text>
<line x1="20.8" y1="256.26" x2="23.0" y2="256.26" stroke="#555555" stroke-width="0.75"/>
<text x="17.40" y="257.86" font-size="4.4" text-anchor="end" fill="#555555" >6</text>
<line x1="20.8" y1="227.38" x2="23.0" y2="227.38" stroke="#555555" stroke-width="0.75"/>
<text x="17.40" y="228.98" font-size="4.4" text-anchor="end" fill="#555555" >8</text>
<text x="255.45" y="203.50" font-size="8.34" text-anchor="middle" fill="#000" >Real vs Predicted Operation B6 Carbon Footprint</text>
<text x="255.20" y="358.50" font-size="5.7" text-anchor="middle" fill="#555555" stroke="#555555" stroke-width="0.1" >kg CO2eq</text>
<text x="10.40" y="275.20" font-size="5.8" text-anchor="middle" fill="#555555" stroke="#555555" stroke-width="0.1" transform="rotate(-90 10.4 275.2)">Number of designs</text>
<text x="19.60" y="365.50" font-size="6.21" text-anchor="start" fill="#000" >Mean absolute error: 15440.59 kg of CO2eq</text>
<text x="444.40" y="365.50" font-size="6.13" text-anchor="end" fill="#000" >Explained variance: 97.46%</text>
<rect x="40.9" y="392.1" width="440.00" height="128.60" fill="#E5E5E5"/>
<line x1="49.25" y1="392.1" x2="49.25" y2="520.7" stroke="#fff" stroke-width="0.7" stroke-opacity="0.8"/>
<line x1="116.08" y1="392.1" x2="116.08" y2="520.7" stroke="#fff" stroke-width="0.7" stroke-opacity="0.8"/>
<line x1="182.91" y1="392.1" x2="182.91" y2="520.7" stroke="#fff" stroke-width="0.7" stroke-opacity="0.8"/>
<line x1="249.74" y1="392.1" x2="249.74" y2="520.7" stroke="#fff" stroke-width="0.7" stroke-opacity="0.8"/>
<line x1="316.57" y1="392.1" x2="316.57" y2="520.7" stroke="#fff" stroke-width="0.7" stroke-opacity="0.8"/>
<line x1="383.40" y1="392.1" x2="383.40" y2="520.7" stroke="#fff" stroke-width="0.7" stroke-opacity="0.8"/>
<line x1="450.23" y1="392.1" x2="450.23" y2="520.7" stroke="#fff" stroke-width="0.7" stroke-opacity="0.8"/>
<line x1="40.9" y1="517.20" x2="480.9" y2="517.20" stroke="#fff" stroke-width="0.7" stroke-opacity="0.8"/>
<line x1="40.9" y1="495.04" x2="480.9" y2="495.04" stroke="#fff" stroke-width="0.7" stroke-opacity="0.8"/>
<line x1="40.9" y1="472.88" x2="480.9" y2="472.88" stroke="#fff" stroke-width="0.7" stroke-opacity="0.8"/>
<line x1="40.9" y1="450.72" x2="480.9" y2="450.72" stroke="#fff" stroke-width="0.7" stroke-opacity="0.8"/>
<line x1="40.9" y1="428.56" x2="480.9" y2="428.56" stroke="#fff" stroke-width="0.7" stroke-opacity="0.8"/>
<line x1="40.9" y1="406.40" x2="480.9" y2="406.40" stroke="#fff" stroke-width="0.7" stroke-opacity="0.8"/>
<line x1="49.25" y1="520.7" x2="49.25" y2="522.9000000000001" stroke="#555555" stroke-width="0.75"/>
<text x="49.25" y="529.30" font-size="4.3" text-anchor="middle" fill="#555555" >500000</text>
<line x1="116.08" y1="520.7" x2="116.08" y2="522.9000000000001" stroke="#555555" stroke-width="0.75"/>
<text x="116.08" y="529.30" font-size="4.3" text-anchor="middle" fill="#555555" >600000</text>
<line x1="182.91" y1="520.7" x2="182.91" y2="522.9000000000001" stroke="#555555" stroke-width="0.75"/>
<text x="182.91" y="529.30" font-size="4.3" text-anchor="middle" fill="#555555" >700000</text>
<line x1="249.74" y1="520.7" x2="249.74" y2="522.9000000000001" stroke="#555555" stroke-width="0.75"/>
<text x="249.74" y="529.30" font-size="4.3" text-anchor="middle" fill="#555555" >800000</text>
<line x1="316.57" y1="520.7" x2="316.57" y2="522.9000000000001" stroke="#555555" stroke-width="0.75"/>
<text x="316.57" y="529.30" font-size="4.3" text-anchor="middle" fill="#555555" >900000</text>
<line x1="383.40" y1="520.7" x2="383.40" y2="522.9000000000001" stroke="#555555" stroke-width="0.75"/>
<text x="383.40" y="529.30" font-size="4.3" text-anchor="middle" fill="#555555" >1000000</text>
<line x1="450.23" y1="520.7" x2="450.23" y2="522.9000000000001" stroke="#555555" stroke-width="0.75"/>
<text x="450.23" y="529.30" font-size="4.3" text-anchor="middle" fill="#555555" >1100000</text>
<line x1="38.699999999999996" y1="517.20" x2="40.9" y2="517.20" stroke="#555555" stroke-width="0.75"/>
<text x="35.55" y="518.80" font-size="4.35" text-anchor="end" fill="#555555" >250000</text>
<line x1="38.699999999999996" y1="495.04" x2="40.9" y2="495.04" stroke="#555555" stroke-width="0.75"/>
<text x="35.55" y="496.64" font-size="4.35" text-anchor="end" fill="#555555" >300000</text>
<line x1="38.699999999999996" y1="472.88" x2="40.9" y2="472.88" stroke="#555555" stroke-width="0.75"/>
<text x="35.55" y="474.48" font-size="4.35" text-anchor="end" fill="#555555" >350000</text>
<line x1="38.699999999999996" y1="450.72" x2="40.9" y2="450.72" stroke="#555555" stroke-width="0.75"/>
<text x="35.55" y="452.32" font-size="4.35" text-anchor="end" fill="#555555" >400000</text>
<line x1="38.699999999999996" y1="428.56" x2="40.9" y2="428.56" stroke="#555555" stroke-width="0.75"/>
<text x="35.55" y="430.16" font-size="4.35" text-anchor="end" fill="#555555" >450000</text>
<line x1="38.699999999999996" y1="406.40" x2="40.9" y2="406.40" stroke="#555555" stroke-width="0.75"/>
<text x="35.55" y="408.00" font-size="4.35" text-anchor="end" fill="#555555" >500000</text>
<rect x="433.0" y="393.0" width="47.0" height="14.5" fill="#E5E5E5" fill-opacity="0.85"/>
<line x1="118.64" y1="475.84" x2="142.53" y2="473.17" stroke="#BDBDBD" stroke-width="0.7"/>
<line x1="112.64" y1="484.60" x2="106.80" y2="486.55" stroke="#BDBDBD" stroke-width="0.7"/>
<line x1="119.78" y1="486.88" x2="94.62" y2="488.17" stroke="#BDBDBD" stroke-width="0.7"/>
<line x1="122.54" y1="487.36" x2="131.17" y2="485.02" stroke="#BDBDBD" stroke-width="0.7"/>
<line x1="111.18" y1="488.99" x2="113.61" y2="489.80" stroke="#BDBDBD" stroke-width="0.7"/>
<line x1="116.53" y1="490.61" x2="118.97" y2="491.10" stroke="#BDBDBD" stroke-width="0.7"/>
<line x1="114.10" y1="492.72" x2="115.72" y2="493.53" stroke="#BDBDBD" stroke-width="0.7"/>
<line x1="77.59" y1="494.83" x2="82.94" y2="494.67" stroke="#BDBDBD" stroke-width="0.7"/>
<line x1="72.88" y1="495.64" x2="91.87" y2="494.67" stroke="#BDBDBD" stroke-width="0.7"/>
<line x1="108.74" y1="495.31" x2="105.50" y2="493.85" stroke="#BDBDBD" stroke-width="0.7"/>
<line x1="129.03" y1="495.96" x2="137.17" y2="495.57" stroke="#BDBDBD" stroke-width="0.7"/>
<line x1="124.65" y1="496.77" x2="113.29" y2="495.15" stroke="#BDBDBD" stroke-width="0.7"/>
<line x1="122.21" y1="497.91" x2="118.15" y2="495.64" stroke="#BDBDBD" stroke-width="0.7"/>
<line x1="83.43" y1="498.40" x2="92.52" y2="498.88" stroke="#BDBDBD" stroke-width="0.7"/>
<line x1="96.73" y1="499.21" x2="101.28" y2="499.70" stroke="#BDBDBD" stroke-width="0.7"/>
<line x1="95.11" y1="500.18" x2="107.61" y2="501.16" stroke="#BDBDBD" stroke-width="0.7"/>
<line x1="91.38" y1="501.97" x2="93.98" y2="502.45" stroke="#BDBDBD" stroke-width="0.7"/>
<line x1="100.63" y1="503.10" x2="102.90" y2="503.27" stroke="#BDBDBD" stroke-width="0.7"/>
<line x1="107.93" y1="503.75" x2="112.96" y2="504.56" stroke="#BDBDBD" stroke-width="0.7"/>
<line x1="119.45" y1="503.27" x2="132.63" y2="502.38" stroke="#BDBDBD" stroke-width="0.7"/>
<line x1="122.21" y1="504.08" x2="120.26" y2="504.89" stroke="#BDBDBD" stroke-width="0.7"/>
<line x1="75.48" y1="504.40" x2="78.72" y2="505.21" stroke="#BDBDBD" stroke-width="0.7"/>
<line x1="94.14" y1="505.21" x2="108.42" y2="506.51" stroke="#BDBDBD" stroke-width="0.7"/>
<line x1="71.58" y1="508.62" x2="67.04" y2="507.32" stroke="#BDBDBD" stroke-width="0.7"/>
<line x1="77.26" y1="508.95" x2="84.40" y2="506.19" stroke="#BDBDBD" stroke-width="0.7"/>
<line x1="82.45" y1="508.95" x2="92.68" y2="508.95" stroke="#BDBDBD" stroke-width="0.7"/>
<line x1="97.55" y1="510.08" x2="92.68" y2="511.22" stroke="#BDBDBD" stroke-width="0.7"/>
<line x1="87.00" y1="510.57" x2="91.38" y2="510.89" stroke="#BDBDBD" stroke-width="0.7"/>
<line x1="62.17" y1="511.87" x2="66.23" y2="508.46" stroke="#BDBDBD" stroke-width="0.7"/>
<line x1="80.18" y1="512.52" x2="71.91" y2="513.81" stroke="#BDBDBD" stroke-width="0.7"/>
<line x1="83.27" y1="512.68" x2="86.51" y2="513.49" stroke="#BDBDBD" stroke-width="0.7"/>
<line x1="84.73" y1="512.19" x2="90.57" y2="511.70" stroke="#BDBDBD" stroke-width="0.7"/>
<line x1="158.75" y1="465.06" x2="182.93" y2="457.27" stroke="#BDBDBD" stroke-width="0.7"/>
<line x1="183.74" y1="466.68" x2="184.23" y2="463.44" stroke="#BDBDBD" stroke-width="0.7"/>
<line x1="186.01" y1="466.03" x2="195.26" y2="466.03" stroke="#BDBDBD" stroke-width="0.7"/>
<line x1="197.86" y1="471.23" x2="199.65" y2="470.90" stroke="#BDBDBD" stroke-width="0.7"/>
<line x1="157.13" y1="472.04" x2="159.08" y2="472.53" stroke="#BDBDBD" stroke-width="0.7"/>
<line x1="168.49" y1="472.53" x2="164.43" y2="471.71" stroke="#BDBDBD" stroke-width="0.7"/>
<line x1="182.93" y1="472.85" x2="179.04" y2="472.53" stroke="#BDBDBD" stroke-width="0.7"/>
<line x1="190.23" y1="472.53" x2="187.96" y2="471.39" stroke="#BDBDBD" stroke-width="0.7"/>
<line x1="162.00" y1="474.47" x2="165.57" y2="473.17" stroke="#BDBDBD" stroke-width="0.7"/>
<line x1="170.11" y1="475.12" x2="173.68" y2="476.10" stroke="#BDBDBD" stroke-width="0.7"/>
<line x1="150.15" y1="474.96" x2="155.34" y2="475.77" stroke="#BDBDBD" stroke-width="0.7"/>
<line x1="179.36" y1="475.61" x2="184.23" y2="475.28" stroke="#BDBDBD" stroke-width="0.7"/>
<line x1="150.15" y1="477.23" x2="159.08" y2="476.91" stroke="#BDBDBD" stroke-width="0.7"/>
<line x1="138.31" y1="480.64" x2="129.51" y2="479.41" stroke="#BDBDBD" stroke-width="0.7"/>
<line x1="140.90" y1="480.96" x2="131.49" y2="479.34" stroke="#BDBDBD" stroke-width="0.7"/>
<line x1="146.26" y1="480.15" x2="143.66" y2="479.34" stroke="#BDBDBD" stroke-width="0.7"/>
<line x1="150.96" y1="481.29" x2="148.53" y2="481.77" stroke="#BDBDBD" stroke-width="0.7"/>
<line x1="163.30" y1="481.45" x2="159.56" y2="480.96" stroke="#BDBDBD" stroke-width="0.7"/>
<line x1="164.59" y1="481.77" x2="161.02" y2="480.31" stroke="#BDBDBD" stroke-width="0.7"/>
<line x1="177.90" y1="481.77" x2="175.30" y2="480.15" stroke="#BDBDBD" stroke-width="0.7"/>
<line x1="176.28" y1="482.91" x2="181.63" y2="484.21" stroke="#BDBDBD" stroke-width="0.7"/>
<line x1="189.10" y1="478.53" x2="183.90" y2="478.53" stroke="#BDBDBD" stroke-width="0.7"/>
<line x1="193.97" y1="477.72" x2="197.21" y2="478.53" stroke="#BDBDBD" stroke-width="0.7"/>
<line x1="200.13" y1="479.02" x2="195.10" y2="479.34" stroke="#BDBDBD" stroke-width="0.7"/>
<line x1="202.57" y1="477.72" x2="204.51" y2="476.91" stroke="#BDBDBD" stroke-width="0.7"/>
<line x1="190.56" y1="485.02" x2="193.97" y2="482.91" stroke="#BDBDBD" stroke-width="0.7"/>
<line x1="199.81" y1="484.21" x2="230.64" y2="483.03" stroke="#BDBDBD" stroke-width="0.7"/>
<line x1="131.49" y1="482.91" x2="130.35" y2="479.34" stroke="#BDBDBD" stroke-width="0.7"/>
<line x1="139.60" y1="487.13" x2="140.90" y2="485.02" stroke="#BDBDBD" stroke-width="0.7"/>
<line x1="149.02" y1="485.83" x2="146.10" y2="485.51" stroke="#BDBDBD" stroke-width="0.7"/>
<line x1="162.32" y1="483.88" x2="160.38" y2="483.40" stroke="#BDBDBD" stroke-width="0.7"/>
<line x1="132.79" y1="489.08" x2="132.30" y2="485.83" stroke="#BDBDBD" stroke-width="0.7"/>
<line x1="141.55" y1="489.08" x2="144.47" y2="489.89" stroke="#BDBDBD" stroke-width="0.7"/>
<line x1="147.72" y1="489.40" x2="146.91" y2="492.00" stroke="#BDBDBD" stroke-width="0.7"/>
<line x1="146.91" y1="487.45" x2="143.66" y2="486.64" stroke="#BDBDBD" stroke-width="0.7"/>
<line x1="152.91" y1="489.40" x2="150.96" y2="487.13" stroke="#BDBDBD" stroke-width="0.7"/>
<line x1="158.27" y1="487.78" x2="153.88" y2="482.59" stroke="#BDBDBD" stroke-width="0.7"/>
<line x1="163.62" y1="488.75" x2="167.52" y2="486.64" stroke="#BDBDBD" stroke-width="0.7"/>
<line x1="133.11" y1="492.00" x2="125.46" y2="494.34" stroke="#BDBDBD" stroke-width="0.7"/>
<line x1="136.36" y1="492.00" x2="145.28" y2="492.00" stroke="#BDBDBD" stroke-width="0.7"/>
<line x1="153.88" y1="493.46" x2="142.53" y2="494.76" stroke="#BDBDBD" stroke-width="0.7"/>
<line x1="159.89" y1="492.81" x2="169.62" y2="492.81" stroke="#BDBDBD" stroke-width="0.7"/>
<line x1="202.89" y1="455.81" x2="202.89" y2="463.92" stroke="#BDBDBD" stroke-width="0.7"/>
<line x1="250.44" y1="435.81" x2="249.49" y2="434.49" stroke="#BDBDBD" stroke-width="0.7"/>
<line x1="253.68" y1="437.92" x2="249.62" y2="445.06" stroke="#BDBDBD" stroke-width="0.7"/>
<line x1="262.12" y1="438.25" x2="262.88" y2="434.49" stroke="#BDBDBD" stroke-width="0.7"/>
<line x1="264.55" y1="439.87" x2="271.21" y2="439.06" stroke="#BDBDBD" stroke-width="0.7"/>
<line x1="281.27" y1="439.54" x2="276.08" y2="435.81" stroke="#BDBDBD" stroke-width="0.7"/>
<line x1="245.57" y1="441.82" x2="222.85" y2="442.63" stroke="#BDBDBD" stroke-width="0.7"/>
<line x1="261.80" y1="448.79" x2="260.17" y2="449.60" stroke="#BDBDBD" stroke-width="0.7"/>
<line x1="263.09" y1="447.98" x2="258.23" y2="447.17" stroke="#BDBDBD" stroke-width="0.7"/>
<line x1="279.65" y1="448.79" x2="269.91" y2="447.98" stroke="#BDBDBD" stroke-width="0.7"/>
<line x1="244.43" y1="450.09" x2="219.60" y2="452.85" stroke="#BDBDBD" stroke-width="0.7"/>
<line x1="248.16" y1="452.85" x2="250.44" y2="460.15" stroke="#BDBDBD" stroke-width="0.7"/>
<line x1="235.83" y1="452.04" x2="235.83" y2="454.96" stroke="#BDBDBD" stroke-width="0.7"/>
<line x1="213.11" y1="455.77" x2="220.42" y2="454.47" stroke="#BDBDBD" stroke-width="0.7"/>
<line x1="213.92" y1="457.23" x2="225.77" y2="456.91" stroke="#BDBDBD" stroke-width="0.7"/>
<line x1="230.64" y1="455.28" x2="228.53" y2="456.10" stroke="#BDBDBD" stroke-width="0.7"/>
<line x1="228.04" y1="458.85" x2="222.53" y2="458.53" stroke="#BDBDBD" stroke-width="0.7"/>
<line x1="248.49" y1="458.04" x2="256.93" y2="458.04" stroke="#BDBDBD" stroke-width="0.7"/>
<line x1="275.10" y1="458.20" x2="265.04" y2="457.72" stroke="#BDBDBD" stroke-width="0.7"/>
<line x1="278.51" y1="455.77" x2="267.47" y2="456.91" stroke="#BDBDBD" stroke-width="0.7"/>
<line x1="278.51" y1="459.02" x2="285.49" y2="460.44" stroke="#BDBDBD" stroke-width="0.7"/>
<line x1="284.51" y1="462.91" x2="285.00" y2="462.87" stroke="#BDBDBD" stroke-width="0.7"/>
<line x1="210.68" y1="461.45" x2="188.77" y2="463.44" stroke="#BDBDBD" stroke-width="0.7"/>
<line x1="217.98" y1="462.59" x2="215.55" y2="467.45" stroke="#BDBDBD" stroke-width="0.7"/>
<line x1="221.55" y1="461.45" x2="216.36" y2="461.29" stroke="#BDBDBD" stroke-width="0.7"/>
<line x1="235.02" y1="460.64" x2="229.34" y2="461.77" stroke="#BDBDBD" stroke-width="0.7"/>
<line x1="236.64" y1="460.96" x2="238.75" y2="459.34" stroke="#BDBDBD" stroke-width="0.7"/>
<line x1="238.27" y1="463.40" x2="235.02" y2="462.26" stroke="#BDBDBD" stroke-width="0.7"/>
<line x1="251.25" y1="461.77" x2="247.19" y2="461.77" stroke="#BDBDBD" stroke-width="0.7"/>
<line x1="255.79" y1="459.83" x2="264.72" y2="459.67" stroke="#BDBDBD" stroke-width="0.7"/>
<line x1="258.23" y1="462.59" x2="259.04" y2="461.77" stroke="#BDBDBD" stroke-width="0.7"/>
<line x1="280.78" y1="464.53" x2="284.19" y2="460.64" stroke="#BDBDBD" stroke-width="0.7"/>
<line x1="269.91" y1="463.88" x2="276.40" y2="463.40" stroke="#BDBDBD" stroke-width="0.7"/>
<line x1="260.66" y1="465.51" x2="256.93" y2="465.83" stroke="#BDBDBD" stroke-width="0.7"/>
<line x1="206.62" y1="466.64" x2="199.32" y2="468.31" stroke="#BDBDBD" stroke-width="0.7"/>
<line x1="235.02" y1="465.83" x2="224.15" y2="466.64" stroke="#BDBDBD" stroke-width="0.7"/>
<line x1="243.95" y1="466.64" x2="241.02" y2="466.64" stroke="#BDBDBD" stroke-width="0.7"/>
<line x1="246.87" y1="468.27" x2="256.12" y2="468.27" stroke="#BDBDBD" stroke-width="0.7"/>
<line x1="236.64" y1="471.51" x2="235.02" y2="471.02" stroke="#BDBDBD" stroke-width="0.7"/>
<line x1="221.23" y1="472.32" x2="217.17" y2="471.51" stroke="#BDBDBD" stroke-width="0.7"/>
<line x1="209.87" y1="474.43" x2="207.43" y2="474.76" stroke="#BDBDBD" stroke-width="0.7"/>
<line x1="230.96" y1="476.87" x2="239.89" y2="473.95" stroke="#BDBDBD" stroke-width="0.7"/>
<line x1="284.06" y1="432.06" x2="285.81" y2="432.04" stroke="#BDBDBD" stroke-width="0.7"/>
<line x1="324.76" y1="422.30" x2="325.57" y2="423.11" stroke="#BDBDBD" stroke-width="0.7"/>
<line x1="311.77" y1="426.03" x2="304.47" y2="432.85" stroke="#BDBDBD" stroke-width="0.7"/>
<line x1="299.28" y1="427.49" x2="300.90" y2="428.79" stroke="#BDBDBD" stroke-width="0.7"/>
<line x1="328.00" y1="427.17" x2="331.25" y2="423.92" stroke="#BDBDBD" stroke-width="0.7"/>
<line x1="327.19" y1="429.60" x2="358.35" y2="428.79" stroke="#BDBDBD" stroke-width="0.7"/>
<line x1="340.98" y1="426.03" x2="344.23" y2="423.92" stroke="#BDBDBD" stroke-width="0.7"/>
<line x1="363.70" y1="419.87" x2="348.29" y2="421.17" stroke="#BDBDBD" stroke-width="0.7"/>
<line x1="286.30" y1="434.47" x2="271.64" y2="434.49" stroke="#BDBDBD" stroke-width="0.7"/>
<line x1="289.54" y1="433.99" x2="293.92" y2="433.17" stroke="#BDBDBD" stroke-width="0.7"/>
<line x1="356.72" y1="434.47" x2="354.78" y2="434.15" stroke="#BDBDBD" stroke-width="0.7"/>
<line x1="353.15" y1="436.42" x2="350.72" y2="435.77" stroke="#BDBDBD" stroke-width="0.7"/>
<line x1="339.69" y1="435.61" x2="343.09" y2="433.34" stroke="#BDBDBD" stroke-width="0.7"/>
<line x1="329.14" y1="440.96" x2="334.82" y2="439.02" stroke="#BDBDBD" stroke-width="0.7"/>
<line x1="294.74" y1="439.34" x2="296.85" y2="442.59" stroke="#BDBDBD" stroke-width="0.7"/>
<line x1="304.15" y1="443.72" x2="302.53" y2="444.70" stroke="#BDBDBD" stroke-width="0.7"/>
<line x1="318.75" y1="444.21" x2="311.45" y2="445.02" stroke="#BDBDBD" stroke-width="0.7"/>
<line x1="343.74" y1="441.29" x2="338.23" y2="437.72" stroke="#BDBDBD" stroke-width="0.7"/>
<line x1="340.98" y1="443.88" x2="334.82" y2="443.88" stroke="#BDBDBD" stroke-width="0.7"/>
<line x1="347.80" y1="442.26" x2="350.23" y2="442.91" stroke="#BDBDBD" stroke-width="0.7"/>
<line x1="337.74" y1="445.83" x2="339.85" y2="446.81" stroke="#BDBDBD" stroke-width="0.7"/>
<line x1="342.61" y1="445.02" x2="342.12" y2="442.91" stroke="#BDBDBD" stroke-width="0.7"/>
<line x1="327.68" y1="448.10" x2="340.98" y2="447.45" stroke="#BDBDBD" stroke-width="0.7"/>
<line x1="287.43" y1="451.02" x2="294.41" y2="450.38" stroke="#BDBDBD" stroke-width="0.7"/>
<line x1="291.49" y1="452.00" x2="291.82" y2="448.27" stroke="#BDBDBD" stroke-width="0.7"/>
<line x1="299.28" y1="451.02" x2="301.23" y2="448.27" stroke="#BDBDBD" stroke-width="0.7"/>
<line x1="301.23" y1="449.89" x2="303.17" y2="447.45" stroke="#BDBDBD" stroke-width="0.7"/>
<line x1="310.96" y1="449.08" x2="310.96" y2="446.32" stroke="#BDBDBD" stroke-width="0.7"/>
<line x1="314.21" y1="447.45" x2="321.02" y2="446.64" stroke="#BDBDBD" stroke-width="0.7"/>
<line x1="314.21" y1="449.40" x2="315.83" y2="448.27" stroke="#BDBDBD" stroke-width="0.7"/>
<line x1="318.27" y1="450.38" x2="322.32" y2="449.89" stroke="#BDBDBD" stroke-width="0.7"/>
<line x1="319.40" y1="451.51" x2="323.95" y2="450.70" stroke="#BDBDBD" stroke-width="0.7"/>
<line x1="326.38" y1="452.32" x2="325.89" y2="450.38" stroke="#BDBDBD" stroke-width="0.7"/>
<line x1="336.44" y1="451.51" x2="331.57" y2="453.13" stroke="#BDBDBD" stroke-width="0.7"/>
<line x1="346.18" y1="452.00" x2="345.37" y2="452.81" stroke="#BDBDBD" stroke-width="0.7"/>
<line x1="350.40" y1="449.40" x2="355.59" y2="449.89" stroke="#BDBDBD" stroke-width="0.7"/>
<line x1="295.55" y1="453.95" x2="296.68" y2="455.89" stroke="#BDBDBD" stroke-width="0.7"/>
<line x1="300.90" y1="453.13" x2="307.72" y2="454.76" stroke="#BDBDBD" stroke-width="0.7"/>
<line x1="299.28" y1="456.38" x2="292.30" y2="456.87" stroke="#BDBDBD" stroke-width="0.7"/>
<line x1="309.34" y1="453.13" x2="320.70" y2="452.65" stroke="#BDBDBD" stroke-width="0.7"/>
<line x1="321.02" y1="457.19" x2="301.23" y2="458.81" stroke="#BDBDBD" stroke-width="0.7"/>
<line x1="307.23" y1="463.36" x2="298.79" y2="464.82" stroke="#BDBDBD" stroke-width="0.7"/>
<line x1="419.69" y1="398.82" x2="397.78" y2="407.90" stroke="#BDBDBD" stroke-width="0.7"/>
<line x1="438.83" y1="406.28" x2="351.04" y2="419.54" stroke="#BDBDBD" stroke-width="0.7"/>
<line x1="372.79" y1="408.23" x2="379.28" y2="408.55" stroke="#BDBDBD" stroke-width="0.7"/>
<line x1="381.23" y1="413.42" x2="379.28" y2="415.20" stroke="#BDBDBD" stroke-width="0.7"/>
<line x1="388.04" y1="411.15" x2="378.79" y2="411.47" stroke="#BDBDBD" stroke-width="0.7"/>
<line x1="412.38" y1="412.61" x2="398.27" y2="417.15" stroke="#BDBDBD" stroke-width="0.7"/>
<line x1="406.05" y1="419.10" x2="409.62" y2="418.29" stroke="#BDBDBD" stroke-width="0.7"/>
<line x1="404.76" y1="420.88" x2="395.02" y2="417.48" stroke="#BDBDBD" stroke-width="0.7"/>
<line x1="385.28" y1="421.70" x2="367.43" y2="423.64" stroke="#BDBDBD" stroke-width="0.7"/>
<line x1="365.81" y1="424.13" x2="364.51" y2="423.92" stroke="#BDBDBD" stroke-width="0.7"/>
<line x1="398.75" y1="425.27" x2="412.55" y2="423.32" stroke="#BDBDBD" stroke-width="0.7"/>
<line x1="377.17" y1="429.00" x2="379.28" y2="426.08" stroke="#BDBDBD" stroke-width="0.7"/>
<line x1="399.08" y1="429.65" x2="413.36" y2="431.76" stroke="#BDBDBD" stroke-width="0.7"/>
<line x1="368.25" y1="431.76" x2="369.06" y2="426.56" stroke="#BDBDBD" stroke-width="0.7"/>
<line x1="380.74" y1="432.24" x2="401.51" y2="432.89" stroke="#BDBDBD" stroke-width="0.7"/>
<line x1="379.28" y1="435.49" x2="349.10" y2="433.66" stroke="#BDBDBD" stroke-width="0.7"/>
<line x1="434.45" y1="430.95" x2="459.97" y2="422.79" stroke="#BDBDBD" stroke-width="0.7"/>
<line x1="369.54" y1="442.30" x2="376.68" y2="441.01" stroke="#BDBDBD" stroke-width="0.7"/>
<line x1="373.60" y1="442.63" x2="391.29" y2="441.98" stroke="#BDBDBD" stroke-width="0.7"/>
<line x1="440.50" y1="414.64" x2="440.78" y2="415.20" stroke="#BDBDBD" stroke-width="0.7"/>
<circle cx="118.64" cy="475.84" r="1.25" fill="#1E90FF"/>
<circle cx="112.64" cy="484.60" r="1.25" fill="#1E90FF"/>
<circle cx="119.78" cy="486.88" r="1.25" fill="#1E90FF"/>
<circle cx="122.54" cy="487.36" r="1.25" fill="#1E90FF"/>
<circle cx="111.18" cy="488.99" r="1.25" fill="#1E90FF"/>
<circle cx="116.53" cy="490.61" r="1.25" fill="#1E90FF"/>
<circle cx="114.10" cy="492.72" r="1.25" fill="#1E90FF"/>
<circle cx="77.59" cy="494.83" r="1.25" fill="#1E90FF"/>
<circle cx="72.88" cy="495.64" r="1.25" fill="#1E90FF"/>
<circle cx="108.74" cy="495.31" r="1.25" fill="#1E90FF"/>
<circle cx="129.03" cy="495.96" r="1.25" fill="#1E90FF"/>
<circle cx="124.65" cy="496.77" r="1.25" fill="#1E90FF"/>
<circle cx="122.21" cy="497.91" r="1.25" fill="#1E90FF"/>
<circle cx="83.43" cy="498.40" r="1.25" fill="#1E90FF"/>
<circle cx="96.73" cy="499.21" r="1.25" fill="#1E90FF"/>
<circle cx="95.11" cy="500.18" r="1.25" fill="#1E90FF"/>
<circle cx="91.38" cy="501.97" r="1.25" fill="#1E90FF"/>
<circle cx="100.63" cy="503.10" r="1.25" fill="#1E90FF"/>
<circle cx="107.93" cy="503.75" r="1.25" fill="#1E90FF"/>
<circle cx="119.45" cy="503.27" r="1.25" fill="#1E90FF"/>
<circle cx="122.21" cy="504.08" r="1.25" fill="#1E90FF"/>
<circle cx="75.48" cy="504.40" r="1.25" fill="#1E90FF"/>
<circle cx="94.14" cy="505.21" r="1.25" fill="#1E90FF"/>
<circle cx="71.58" cy="508.62" r="1.25" fill="#1E90FF"/>
<circle cx="77.26" cy="508.95" r="1.25" fill="#1E90FF"/>
<circle cx="82.45" cy="508.95" r="1.25" fill="#1E90FF"/>
<circle cx="97.55" cy="510.08" r="1.25" fill="#1E90FF"/>
<circle cx="87.00" cy="510.57" r="1.25" fill="#1E90FF"/>
<circle cx="62.17" cy="511.87" r="1.25" fill="#1E90FF"/>
<circle cx="80.18" cy="512.52" r="1.25" fill="#1E90FF"/>
<circle cx="83.27" cy="512.68" r="1.25" fill="#1E90FF"/>
<circle cx="84.73" cy="512.19" r="1.25" fill="#1E90FF"/>
<circle cx="158.75" cy="465.06" r="1.25" fill="#1E90FF"/>
<circle cx="183.74" cy="466.68" r="1.25" fill="#1E90FF"/>
<circle cx="186.01" cy="466.03" r="1.25" fill="#1E90FF"/>
<circle cx="197.86" cy="471.23" r="1.25" fill="#1E90FF"/>
<circle cx="157.13" cy="472.04" r="1.25" fill="#1E90FF"/>
<circle cx="168.49" cy="472.53" r="1.25" fill="#1E90FF"/>
<circle cx="182.93" cy="472.85" r="1.25" fill="#1E90FF"/>
<circle cx="190.23" cy="472.53" r="1.25" fill="#1E90FF"/>
<circle cx="162.00" cy="474.47" r="1.25" fill="#1E90FF"/>
<circle cx="170.11" cy="475.12" r="1.25" fill="#1E90FF"/>
<circle cx="150.15" cy="474.96" r="1.25" fill="#1E90FF"/>
<circle cx="179.36" cy="475.61" r="1.25" fill="#1E90FF"/>
<circle cx="150.15" cy="477.23" r="1.25" fill="#1E90FF"/>
<circle cx="138.31" cy="480.64" r="1.25" fill="#1E90FF"/>
<circle cx="140.90" cy="480.96" r="1.25" fill="#1E90FF"/>
<circle cx="146.26" cy="480.15" r="1.25" fill="#1E90FF"/>
<circle cx="150.96" cy="481.29" r="1.25" fill="#1E90FF"/>
<circle cx="163.30" cy="481.45" r="1.25" fill="#1E90FF"/>
<circle cx="164.59" cy="481.77" r="1.25" fill="#1E90FF"/>
<circle cx="177.90" cy="481.77" r="1.25" fill="#1E90FF"/>
<circle cx="176.28" cy="482.91" r="1.25" fill="#1E90FF"/>
<circle cx="189.10" cy="478.53" r="1.25" fill="#1E90FF"/>
<circle cx="193.97" cy="477.72" r="1.25" fill="#1E90FF"/>
<circle cx="200.13" cy="479.02" r="1.25" fill="#1E90FF"/>
<circle cx="202.57" cy="477.72" r="1.25" fill="#1E90FF"/>
<circle cx="190.56" cy="485.02" r="1.25" fill="#1E90FF"/>
<circle cx="199.81" cy="484.21" r="1.25" fill="#1E90FF"/>
<circle cx="131.49" cy="482.91" r="1.25" fill="#1E90FF"/>
<circle cx="139.60" cy="487.13" r="1.25" fill="#1E90FF"/>
<circle cx="149.02" cy="485.83" r="1.25" fill="#1E90FF"/>
<circle cx="162.32" cy="483.88" r="1.25" fill="#1E90FF"/>
<circle cx="132.79" cy="489.08" r="1.25" fill="#1E90FF"/>
<circle cx="141.55" cy="489.08" r="1.25" fill="#1E90FF"/>
<circle cx="147.72" cy="489.40" r="1.25" fill="#1E90FF"/>
<circle cx="146.91" cy="487.45" r="1.25" fill="#1E90FF"/>
<circle cx="152.91" cy="489.40" r="1.25" fill="#1E90FF"/>
<circle cx="158.27" cy="487.78" r="1.25" fill="#1E90FF"/>
<circle cx="163.62" cy="488.75" r="1.25" fill="#1E90FF"/>
<circle cx="133.11" cy="492.00" r="1.25" fill="#1E90FF"/>
<circle cx="136.36" cy="492.00" r="1.25" fill="#1E90FF"/>
<circle cx="153.88" cy="493.46" r="1.25" fill="#1E90FF"/>
<circle cx="159.89" cy="492.81" r="1.25" fill="#1E90FF"/>
<circle cx="202.89" cy="455.81" r="1.25" fill="#1E90FF"/>
<circle cx="250.44" cy="435.81" r="1.25" fill="#1E90FF"/>
<circle cx="253.68" cy="437.92" r="1.25" fill="#1E90FF"/>
<circle cx="262.12" cy="438.25" r="1.25" fill="#1E90FF"/>
<circle cx="264.55" cy="439.87" r="1.25" fill="#1E90FF"/>
<circle cx="281.27" cy="439.54" r="1.25" fill="#1E90FF"/>
<circle cx="245.57" cy="441.82" r="1.25" fill="#1E90FF"/>
<circle cx="261.80" cy="448.79" r="1.25" fill="#1E90FF"/>
<circle cx="263.09" cy="447.98" r="1.25" fill="#1E90FF"/>
<circle cx="279.65" cy="448.79" r="1.25" fill="#1E90FF"/>
<circle cx="244.43" cy="450.09" r="1.25" fill="#1E90FF"/>
<circle cx="248.16" cy="452.85" r="1.25" fill="#1E90FF"/>
<circle cx="235.83" cy="452.04" r="1.25" fill="#1E90FF"/>
<circle cx="213.11" cy="455.77" r="1.25" fill="#1E90FF"/>
<circle cx="213.92" cy="457.23" r="1.25" fill="#1E90FF"/>
<circle cx="230.64" cy="455.28" r="1.25" fill="#1E90FF"/>
<circle cx="228.04" cy="458.85" r="1.25" fill="#1E90FF"/>
<circle cx="248.49" cy="458.04" r="1.25" fill="#1E90FF"/>
<circle cx="275.10" cy="458.20" r="1.25" fill="#1E90FF"/>
<circle cx="278.51" cy="455.77" r="1.25" fill="#1E90FF"/>
<circle cx="278.51" cy="459.02" r="1.25" fill="#1E90FF"/>
<circle cx="284.51" cy="462.91" r="1.25" fill="#1E90FF"/>
<circle cx="210.68" cy="461.45" r="1.25" fill="#1E90FF"/>
<circle cx="217.98" cy="462.59" r="1.25" fill="#1E90FF"/>
<circle cx="221.55" cy="461.45" r="1.25" fill="#1E90FF"/>
<circle cx="235.02" cy="460.64" r="1.25" fill="#1E90FF"/>
<circle cx="236.64" cy="460.96" r="1.25" fill="#1E90FF"/>
<circle cx="238.27" cy="463.40" r="1.25" fill="#1E90FF"/>
<circle cx="251.25" cy="461.77" r="1.25" fill="#1E90FF"/>
<circle cx="255.79" cy="459.83" r="1.25" fill="#1E90FF"/>
<circle cx="258.23" cy="462.59" r="1.25" fill="#1E90FF"/>
<circle cx="280.78" cy="464.53" r="1.25" fill="#1E90FF"/>
<circle cx="269.91" cy="463.88" r="1.25" fill="#1E90FF"/>
<circle cx="260.66" cy="465.51" r="1.25" fill="#1E90FF"/>
<circle cx="206.62" cy="466.64" r="1.25" fill="#1E90FF"/>
<circle cx="235.02" cy="465.83" r="1.25" fill="#1E90FF"/>
<circle cx="243.95" cy="466.64" r="1.25" fill="#1E90FF"/>
<circle cx="246.87" cy="468.27" r="1.25" fill="#1E90FF"/>
<circle cx="236.64" cy="471.51" r="1.25" fill="#1E90FF"/>
<circle cx="221.23" cy="472.32" r="1.25" fill="#1E90FF"/>
<circle cx="209.87" cy="474.43" r="1.25" fill="#1E90FF"/>
<circle cx="230.96" cy="476.87" r="1.25" fill="#1E90FF"/>
<circle cx="284.06" cy="432.06" r="1.25" fill="#1E90FF"/>
<circle cx="324.76" cy="422.30" r="1.25" fill="#1E90FF"/>
<circle cx="311.77" cy="426.03" r="1.25" fill="#1E90FF"/>
<circle cx="299.28" cy="427.49" r="1.25" fill="#1E90FF"/>
<circle cx="328.00" cy="427.17" r="1.25" fill="#1E90FF"/>
<circle cx="327.19" cy="429.60" r="1.25" fill="#1E90FF"/>
<circle cx="340.98" cy="426.03" r="1.25" fill="#1E90FF"/>
<circle cx="363.70" cy="419.87" r="1.25" fill="#1E90FF"/>
<circle cx="286.30" cy="434.47" r="1.25" fill="#1E90FF"/>
<circle cx="289.54" cy="433.99" r="1.25" fill="#1E90FF"/>
<circle cx="356.72" cy="434.47" r="1.25" fill="#1E90FF"/>
<circle cx="353.15" cy="436.42" r="1.25" fill="#1E90FF"/>
<circle cx="339.69" cy="435.61" r="1.25" fill="#1E90FF"/>
<circle cx="329.14" cy="440.96" r="1.25" fill="#1E90FF"/>
<circle cx="294.74" cy="439.34" r="1.25" fill="#1E90FF"/>
<circle cx="304.15" cy="443.72" r="1.25" fill="#1E90FF"/>
<circle cx="318.75" cy="444.21" r="1.25" fill="#1E90FF"/>
<circle cx="343.74" cy="441.29" r="1.25" fill="#1E90FF"/>
<circle cx="340.98" cy="443.88" r="1.25" fill="#1E90FF"/>
<circle cx="347.80" cy="442.26" r="1.25" fill="#1E90FF"/>
<circle cx="337.74" cy="445.83" r="1.25" fill="#1E90FF"/>
<circle cx="342.61" cy="445.02" r="1.25" fill="#1E90FF"/>
<circle cx="327.68" cy="448.10" r="1.25" fill="#1E90FF"/>
<circle cx="287.43" cy="451.02" r="1.25" fill="#1E90FF"/>
<circle cx="291.49" cy="452.00" r="1.25" fill="#1E90FF"/>
<circle cx="299.28" cy="451.02" r="1.25" fill="#1E90FF"/>
<circle cx="301.23" cy="449.89" r="1.25" fill="#1E90FF"/>
<circle cx="310.96" cy="449.08" r="1.25" fill="#1E90FF"/>
<circle cx="314.21" cy="447.45" r="1.25" fill="#1E90FF"/>
<circle cx="314.21" cy="449.40" r="1.25" fill="#1E90FF"/>
<circle cx="318.27" cy="450.38" r="1.25" fill="#1E90FF"/>
<circle cx="319.40" cy="451.51" r="1.25" fill="#1E90FF"/>
<circle cx="326.38" cy="452.32" r="1.25" fill="#1E90FF"/>
<circle cx="336.44" cy="451.51" r="1.25" fill="#1E90FF"/>
<circle cx="346.18" cy="452.00" r="1.25" fill="#1E90FF"/>
<circle cx="350.40" cy="449.40" r="1.25" fill="#1E90FF"/>
<circle cx="295.55" cy="453.95" r="1.25" fill="#1E90FF"/>
<circle cx="300.90" cy="453.13" r="1.25" fill="#1E90FF"/>
<circle cx="299.28" cy="456.38" r="1.25" fill="#1E90FF"/>
<circle cx="309.34" cy="453.13" r="1.25" fill="#1E90FF"/>
<circle cx="321.02" cy="457.19" r="1.25" fill="#1E90FF"/>
<circle cx="307.23" cy="463.36" r="1.25" fill="#1E90FF"/>
<circle cx="419.69" cy="398.82" r="1.25" fill="#1E90FF"/>
<circle cx="438.83" cy="406.28" r="1.25" fill="#1E90FF"/>
<circle cx="372.79" cy="408.23" r="1.25" fill="#1E90FF"/>
<circle cx="381.23" cy="413.42" r="1.25" fill="#1E90FF"/>
<circle cx="388.04" cy="411.15" r="1.25" fill="#1E90FF"/>
<circle cx="412.38" cy="412.61" r="1.25" fill="#1E90FF"/>
<circle cx="406.05" cy="419.10" r="1.25" fill="#1E90FF"/>
<circle cx="404.76" cy="420.88" r="1.25" fill="#1E90FF"/>
<circle cx="385.28" cy="421.70" r="1.25" fill="#1E90FF"/>
<circle cx="365.81" cy="424.13" r="1.25" fill="#1E90FF"/>
<circle cx="398.75" cy="425.27" r="1.25" fill="#1E90FF"/>
<circle cx="377.17" cy="429.00" r="1.25" fill="#1E90FF"/>
<circle cx="399.08" cy="429.65" r="1.25" fill="#1E90FF"/>
<circle cx="368.25" cy="431.76" r="1.25" fill="#1E90FF"/>
<circle cx="380.74" cy="432.24" r="1.25" fill="#1E90FF"/>
<circle cx="379.28" cy="435.49" r="1.25" fill="#1E90FF"/>
<circle cx="434.45" cy="430.95" r="1.25" fill="#1E90FF"/>
<circle cx="369.54" cy="442.30" r="1.25" fill="#1E90FF"/>
<circle cx="373.60" cy="442.63" r="1.25" fill="#1E90FF"/>
<circle cx="440.50" cy="414.64" r="1.25" fill="#1E90FF"/>
<circle cx="129.51" cy="479.41" r="1.25" fill="#FFA500"/>
<circle cx="106.80" cy="486.55" r="1.25" fill="#FFA500"/>
<circle cx="94.62" cy="488.17" r="1.25" fill="#FFA500"/>
<circle cx="113.61" cy="489.80" r="1.25" fill="#FFA500"/>
<circle cx="118.97" cy="491.10" r="1.25" fill="#FFA500"/>
<circle cx="101.76" cy="491.74" r="1.25" fill="#FFA500"/>
<circle cx="115.72" cy="493.53" r="1.25" fill="#FFA500"/>
<circle cx="105.50" cy="493.85" r="1.25" fill="#FFA500"/>
<circle cx="125.46" cy="494.34" r="1.25" fill="#FFA500"/>
<circle cx="91.87" cy="494.67" r="1.25" fill="#FFA500"/>
<circle cx="82.94" cy="494.67" r="1.25" fill="#FFA500"/>
<circle cx="113.29" cy="495.15" r="1.25" fill="#FFA500"/>
<circle cx="118.15" cy="495.64" r="1.25" fill="#FFA500"/>
<circle cx="92.52" cy="498.88" r="1.25" fill="#FFA500"/>
<circle cx="101.28" cy="499.70" r="1.25" fill="#FFA500"/>
<circle cx="107.61" cy="501.16" r="1.25" fill="#FFA500"/>
<circle cx="93.98" cy="502.45" r="1.25" fill="#FFA500"/>
<circle cx="102.90" cy="503.27" r="1.25" fill="#FFA500"/>
<circle cx="112.96" cy="504.56" r="1.25" fill="#FFA500"/>
<circle cx="120.26" cy="504.89" r="1.25" fill="#FFA500"/>
<circle cx="78.72" cy="505.21" r="1.25" fill="#FFA500"/>
<circle cx="84.40" cy="506.19" r="1.25" fill="#FFA500"/>
<circle cx="108.42" cy="506.51" r="1.25" fill="#FFA500"/>
<circle cx="67.04" cy="507.32" r="1.25" fill="#FFA500"/>
<circle cx="66.23" cy="508.46" r="1.25" fill="#FFA500"/>
<circle cx="92.68" cy="508.95" r="1.25" fill="#FFA500"/>
<circle cx="91.38" cy="510.89" r="1.25" fill="#FFA500"/>
<circle cx="90.57" cy="511.70" r="1.25" fill="#FFA500"/>
<circle cx="92.68" cy="511.22" r="1.25" fill="#FFA500"/>
<circle cx="86.51" cy="513.49" r="1.25" fill="#FFA500"/>
<circle cx="71.91" cy="513.81" r="1.25" fill="#FFA500"/>
<circle cx="182.93" cy="457.27" r="1.25" fill="#FFA500"/>
<circle cx="184.23" cy="463.44" r="1.25" fill="#FFA500"/>
<circle cx="188.77" cy="463.44" r="1.25" fill="#FFA500"/>
<circle cx="195.26" cy="466.03" r="1.25" fill="#FFA500"/>
<circle cx="199.32" cy="468.31" r="1.25" fill="#FFA500"/>
<circle cx="202.89" cy="463.92" r="1.25" fill="#FFA500"/>
<circle cx="199.65" cy="470.90" r="1.25" fill="#FFA500"/>
<circle cx="142.53" cy="473.17" r="1.25" fill="#FFA500"/>
<circle cx="159.08" cy="472.53" r="1.25" fill="#FFA500"/>
<circle cx="164.43" cy="471.71" r="1.25" fill="#FFA500"/>
<circle cx="165.57" cy="473.17" r="1.25" fill="#FFA500"/>
<circle cx="170.44" cy="470.42" r="1.25" fill="#FFA500"/>
<circle cx="174.17" cy="473.17" r="1.25" fill="#FFA500"/>
<circle cx="179.04" cy="472.53" r="1.25" fill="#FFA500"/>
<circle cx="187.96" cy="471.39" r="1.25" fill="#FFA500"/>
<circle cx="173.68" cy="476.10" r="1.25" fill="#FFA500"/>
<circle cx="155.34" cy="475.77" r="1.25" fill="#FFA500"/>
<circle cx="159.08" cy="476.91" r="1.25" fill="#FFA500"/>
<circle cx="184.23" cy="475.28" r="1.25" fill="#FFA500"/>
<circle cx="186.34" cy="476.91" r="1.25" fill="#FFA500"/>
<circle cx="131.49" cy="479.34" r="1.25" fill="#FFA500"/>
<circle cx="130.35" cy="479.34" r="1.25" fill="#FFA500"/>
<circle cx="143.66" cy="479.34" r="1.25" fill="#FFA500"/>
<circle cx="148.53" cy="481.77" r="1.25" fill="#FFA500"/>
<circle cx="153.88" cy="482.59" r="1.25" fill="#FFA500"/>
<circle cx="159.56" cy="480.96" r="1.25" fill="#FFA500"/>
<circle cx="161.02" cy="480.31" r="1.25" fill="#FFA500"/>
<circle cx="175.30" cy="480.15" r="1.25" fill="#FFA500"/>
<circle cx="177.90" cy="479.34" r="1.25" fill="#FFA500"/>
<circle cx="181.63" cy="484.21" r="1.25" fill="#FFA500"/>
<circle cx="183.90" cy="478.53" r="1.25" fill="#FFA500"/>
<circle cx="195.10" cy="479.34" r="1.25" fill="#FFA500"/>
<circle cx="197.21" cy="478.53" r="1.25" fill="#FFA500"/>
<circle cx="196.40" cy="480.64" r="1.25" fill="#FFA500"/>
<circle cx="204.51" cy="476.91" r="1.25" fill="#FFA500"/>
<circle cx="193.97" cy="482.91" r="1.25" fill="#FFA500"/>
<circle cx="131.17" cy="485.02" r="1.25" fill="#FFA500"/>
<circle cx="140.90" cy="485.02" r="1.25" fill="#FFA500"/>
<circle cx="143.66" cy="486.64" r="1.25" fill="#FFA500"/>
<circle cx="146.10" cy="485.51" r="1.25" fill="#FFA500"/>
<circle cx="150.96" cy="487.13" r="1.25" fill="#FFA500"/>
<circle cx="160.38" cy="483.40" r="1.25" fill="#FFA500"/>
<circle cx="167.52" cy="486.64" r="1.25" fill="#FFA500"/>
<circle cx="132.30" cy="485.83" r="1.25" fill="#FFA500"/>
<circle cx="144.47" cy="489.89" r="1.25" fill="#FFA500"/>
<circle cx="145.28" cy="492.00" r="1.25" fill="#FFA500"/>
<circle cx="146.91" cy="492.00" r="1.25" fill="#FFA500"/>
<circle cx="169.62" cy="492.81" r="1.25" fill="#FFA500"/>
<circle cx="137.17" cy="495.57" r="1.25" fill="#FFA500"/>
<circle cx="142.53" cy="494.76" r="1.25" fill="#FFA500"/>
<circle cx="132.63" cy="502.38" r="1.25" fill="#FFA500"/>
<circle cx="276.08" cy="435.81" r="1.25" fill="#FFA500"/>
<circle cx="271.21" cy="439.06" r="1.25" fill="#FFA500"/>
<circle cx="222.85" cy="442.63" r="1.25" fill="#FFA500"/>
<circle cx="249.62" cy="445.06" r="1.25" fill="#FFA500"/>
<circle cx="258.23" cy="447.17" r="1.25" fill="#FFA500"/>
<circle cx="260.17" cy="449.60" r="1.25" fill="#FFA500"/>
<circle cx="269.91" cy="447.98" r="1.25" fill="#FFA500"/>
<circle cx="219.60" cy="452.85" r="1.25" fill="#FFA500"/>
<circle cx="220.42" cy="454.47" r="1.25" fill="#FFA500"/>
<circle cx="235.83" cy="454.96" r="1.25" fill="#FFA500"/>
<circle cx="225.77" cy="456.91" r="1.25" fill="#FFA500"/>
<circle cx="228.53" cy="456.10" r="1.25" fill="#FFA500"/>
<circle cx="222.53" cy="458.53" r="1.25" fill="#FFA500"/>
<circle cx="256.93" cy="458.04" r="1.25" fill="#FFA500"/>
<circle cx="265.04" cy="457.72" r="1.25" fill="#FFA500"/>
<circle cx="267.47" cy="456.91" r="1.25" fill="#FFA500"/>
<circle cx="264.72" cy="459.67" r="1.25" fill="#FFA500"/>
<circle cx="284.19" cy="460.64" r="1.25" fill="#FFA500"/>
<circle cx="216.36" cy="461.29" r="1.25" fill="#FFA500"/>
<circle cx="229.34" cy="461.77" r="1.25" fill="#FFA500"/>
<circle cx="238.75" cy="459.34" r="1.25" fill="#FFA500"/>
<circle cx="235.02" cy="462.26" r="1.25" fill="#FFA500"/>
<circle cx="247.19" cy="461.77" r="1.25" fill="#FFA500"/>
<circle cx="250.44" cy="460.15" r="1.25" fill="#FFA500"/>
<circle cx="259.04" cy="461.77" r="1.25" fill="#FFA500"/>
<circle cx="276.40" cy="463.40" r="1.25" fill="#FFA500"/>
<circle cx="256.93" cy="465.83" r="1.25" fill="#FFA500"/>
<circle cx="256.12" cy="468.27" r="1.25" fill="#FFA500"/>
<circle cx="215.55" cy="467.45" r="1.25" fill="#FFA500"/>
<circle cx="224.15" cy="466.64" r="1.25" fill="#FFA500"/>
<circle cx="241.02" cy="466.64" r="1.25" fill="#FFA500"/>
<circle cx="235.02" cy="471.02" r="1.25" fill="#FFA500"/>
<circle cx="217.17" cy="471.51" r="1.25" fill="#FFA500"/>
<circle cx="239.89" cy="473.95" r="1.25" fill="#FFA500"/>
<circle cx="245.57" cy="472.65" r="1.25" fill="#FFA500"/>
<circle cx="207.43" cy="474.76" r="1.25" fill="#FFA500"/>
<circle cx="246.38" cy="478.49" r="1.25" fill="#FFA500"/>
<circle cx="230.64" cy="483.03" r="1.25" fill="#FFA500"/>
<circle cx="249.49" cy="434.49" r="1.25" fill="#FFA500"/>
<circle cx="262.88" cy="434.49" r="1.25" fill="#FFA500"/>
<circle cx="271.64" cy="434.49" r="1.25" fill="#FFA500"/>
<circle cx="325.57" cy="423.11" r="1.25" fill="#FFA500"/>
<circle cx="331.25" cy="423.92" r="1.25" fill="#FFA500"/>
<circle cx="300.90" cy="428.79" r="1.25" fill="#FFA500"/>
<circle cx="344.23" cy="423.92" r="1.25" fill="#FFA500"/>
<circle cx="348.29" cy="421.17" r="1.25" fill="#FFA500"/>
<circle cx="351.04" cy="419.54" r="1.25" fill="#FFA500"/>
<circle cx="364.51" cy="423.92" r="1.25" fill="#FFA500"/>
<circle cx="358.35" cy="428.79" r="1.25" fill="#FFA500"/>
<circle cx="285.81" cy="432.04" r="1.25" fill="#FFA500"/>
<circle cx="293.92" cy="433.17" r="1.25" fill="#FFA500"/>
<circle cx="304.47" cy="432.85" r="1.25" fill="#FFA500"/>
<circle cx="343.09" cy="433.34" r="1.25" fill="#FFA500"/>
<circle cx="349.10" cy="433.66" r="1.25" fill="#FFA500"/>
<circle cx="350.72" cy="435.77" r="1.25" fill="#FFA500"/>
<circle cx="354.78" cy="434.15" r="1.25" fill="#FFA500"/>
<circle cx="338.23" cy="437.72" r="1.25" fill="#FFA500"/>
<circle cx="334.82" cy="439.02" r="1.25" fill="#FFA500"/>
<circle cx="296.85" cy="442.59" r="1.25" fill="#FFA500"/>
<circle cx="302.53" cy="444.70" r="1.25" fill="#FFA500"/>
<circle cx="311.45" cy="445.02" r="1.25" fill="#FFA500"/>
<circle cx="310.96" cy="446.32" r="1.25" fill="#FFA500"/>
<circle cx="342.12" cy="442.91" r="1.25" fill="#FFA500"/>
<circle cx="350.23" cy="442.91" r="1.25" fill="#FFA500"/>
<circle cx="334.82" cy="443.88" r="1.25" fill="#FFA500"/>
<circle cx="339.85" cy="446.81" r="1.25" fill="#FFA500"/>
<circle cx="340.98" cy="447.45" r="1.25" fill="#FFA500"/>
<circle cx="321.02" cy="446.64" r="1.25" fill="#FFA500"/>
<circle cx="291.82" cy="448.27" r="1.25" fill="#FFA500"/>
<circle cx="294.41" cy="450.38" r="1.25" fill="#FFA500"/>
<circle cx="303.17" cy="447.45" r="1.25" fill="#FFA500"/>
<circle cx="301.23" cy="448.27" r="1.25" fill="#FFA500"/>
<circle cx="315.83" cy="448.27" r="1.25" fill="#FFA500"/>
<circle cx="322.32" cy="449.89" r="1.25" fill="#FFA500"/>
<circle cx="323.95" cy="450.70" r="1.25" fill="#FFA500"/>
<circle cx="325.89" cy="450.38" r="1.25" fill="#FFA500"/>
<circle cx="320.70" cy="452.65" r="1.25" fill="#FFA500"/>
<circle cx="331.57" cy="453.13" r="1.25" fill="#FFA500"/>
<circle cx="345.37" cy="452.81" r="1.25" fill="#FFA500"/>
<circle cx="355.59" cy="449.89" r="1.25" fill="#FFA500"/>
<circle cx="296.68" cy="455.89" r="1.25" fill="#FFA500"/>
<circle cx="292.30" cy="456.87" r="1.25" fill="#FFA500"/>
<circle cx="307.72" cy="454.76" r="1.25" fill="#FFA500"/>
<circle cx="301.23" cy="458.81" r="1.25" fill="#FFA500"/>
<circle cx="285.49" cy="460.44" r="1.25" fill="#FFA500"/>
<circle cx="285.00" cy="462.87" r="1.25" fill="#FFA500"/>
<circle cx="298.79" cy="464.82" r="1.25" fill="#FFA500"/>
<circle cx="397.78" cy="407.90" r="1.25" fill="#FFA500"/>
<circle cx="379.28" cy="408.55" r="1.25" fill="#FFA500"/>
<circle cx="378.79" cy="411.47" r="1.25" fill="#FFA500"/>
<circle cx="379.28" cy="415.20" r="1.25" fill="#FFA500"/>
<circle cx="440.78" cy="415.20" r="1.25" fill="#FFA500"/>
<circle cx="395.02" cy="417.48" r="1.25" fill="#FFA500"/>
<circle cx="398.27" cy="417.15" r="1.25" fill="#FFA500"/>
<circle cx="409.62" cy="418.29" r="1.25" fill="#FFA500"/>
<circle cx="367.43" cy="423.64" r="1.25" fill="#FFA500"/>
<circle cx="369.06" cy="426.56" r="1.25" fill="#FFA500"/>
<circle cx="379.28" cy="426.08" r="1.25" fill="#FFA500"/>
<circle cx="412.55" cy="423.32" r="1.25" fill="#FFA500"/>
<circle cx="401.51" cy="432.89" r="1.25" fill="#FFA500"/>
<circle cx="413.36" cy="431.76" r="1.25" fill="#FFA500"/>
<circle cx="376.68" cy="441.01" r="1.25" fill="#FFA500"/>
<circle cx="391.29" cy="441.98" r="1.25" fill="#FFA500"/>
<circle cx="459.97" cy="422.79" r="1.25" fill="#FFA500"/>
<text x="260.55" y="389.40" font-size="7.89" text-anchor="middle" fill="#000" >Real vs Predicted Total Carbon Footprint - Ordinal encoding ML</text>
<text x="261.10" y="535.90" font-size="5.6" text-anchor="middle" fill="#555555" stroke="#555555" stroke-width="0.1" >Operation B6 kg CO2eq</text>
<text x="18.10" y="456.00" font-size="5.65" text-anchor="middle" fill="#555555" stroke="#555555" stroke-width="0.1" transform="rotate(-90 18.1 456.0)">Material A1-A3 kg CO2eq</text>
<text x="37.90" y="542.10" font-size="5.88" text-anchor="start" fill="#000" >Mean absolute error: 18718.23 kg of CO2eq</text>
<text x="439.80" y="542.10" font-size="5.81" text-anchor="end" fill="#000" >Explained variance: 98.13%</text>
<rect x="432.5" y="17.6" width="52.90" height="15.40" fill="#E5E5E5" fill-opacity="0.85"/>
<rect x="436.2" y="21.3" width="8.60" height="2.4" fill="#1E90FF" fill-opacity="0.9"/>
<rect x="436.2" y="27.1" width="8.60" height="2.4" fill="#FFA500" fill-opacity="0.9"/>
<text x="448.10" y="24.25" font-size="4.6" text-anchor="start" fill="#333" >Real values</text>
<text x="448.10" y="30.60" font-size="4.6" text-anchor="start" fill="#333" >Predicted values</text>
<rect x="433.4" y="207.6" width="53.60" height="16.00" fill="#E5E5E5" fill-opacity="0.85"/>
<rect x="437.1" y="211.3" width="8.70" height="2.4" fill="#1E90FF" fill-opacity="0.9"/>
<rect x="437.1" y="217.10000000000002" width="8.70" height="2.4" fill="#FFA500" fill-opacity="0.9"/>
<text x="449.80" y="214.25" font-size="4.6" text-anchor="start" fill="#333" >Real values</text>
<text x="449.80" y="220.60" font-size="4.6" text-anchor="start" fill="#333" >Predicted values</text>
<circle cx="437.2" cy="397.7" r="1.25" fill="#1E90FF"/>
<circle cx="437.2" cy="403.8" r="1.25" fill="#FFA500"/>
<text x="445.10" y="399.20" font-size="4.4" text-anchor="start" fill="#333" >Real values</text>
<text x="445.10" y="405.30" font-size="4.4" text-anchor="start" fill="#333" >Predicted values</text>
</svg>
</body></html>
